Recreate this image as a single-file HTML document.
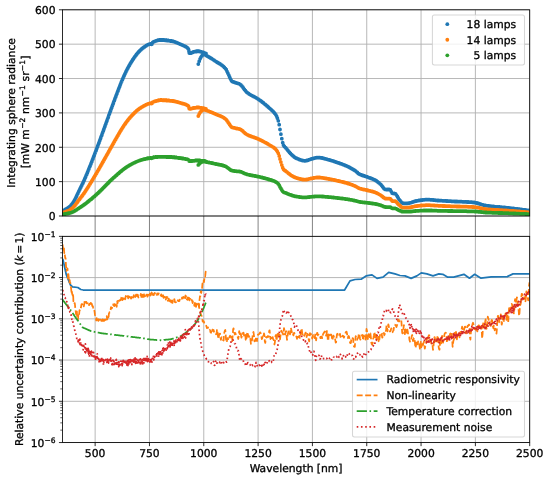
<!DOCTYPE html><html><head><meta charset="utf-8"><title>Integrating sphere radiance</title><style>html,body{margin:0;padding:0;background:#fff}svg{display:block}</style></head><body><svg width="550" height="481" viewBox="0 0 550 481" font-family="'DejaVu Sans', 'Liberation Sans', sans-serif" font-size="10.75" fill="#000" text-rendering="geometricPrecision"><style>text{stroke:#000;stroke-width:0.3px}</style><rect width="550" height="481" fill="#fff"/><defs><clipPath id="ct"><rect x="62.55" y="9.80" width="467.15" height="206.20"/></clipPath><clipPath id="cb"><rect x="62.55" y="236.35" width="467.15" height="206.20"/></clipPath></defs><path d="M95.14 9.80V216.00M149.46 9.80V216.00M203.78 9.80V216.00M258.10 9.80V216.00M312.42 9.80V216.00M366.74 9.80V216.00M421.06 9.80V216.00M475.38 9.80V216.00M529.70 9.80V216.00M62.55 216.00H529.70M62.55 181.63H529.70M62.55 147.27H529.70M62.55 112.90H529.70M62.55 78.53H529.70M62.55 44.17H529.70M62.55 9.80H529.70" stroke="#b0b0b0" stroke-width="0.90" fill="none"/><g clip-path="url(#ct)" fill="none" stroke-linecap="round" stroke-width="3.80"><path d="M62.5 211.2h0M62.9 211.0h0M63.2 210.8h0M63.5 210.6h0M63.9 210.4h0M64.2 210.2h0M64.5 210.0h0M64.8 209.8h0M65.2 209.6h0M65.5 209.4h0M65.8 209.2h0M66.1 209.0h0M66.5 208.8h0M66.8 208.6h0M67.1 208.4h0M67.4 208.2h0M67.8 208.1h0M68.1 207.9h0M68.4 207.7h0M68.7 207.4h0M69.1 207.2h0M69.4 207.0h0M69.7 206.7h0M70.0 206.4h0M70.4 206.1h0M70.7 205.8h0M71.0 205.4h0M71.3 205.0h0M71.7 204.6h0M72.0 204.2h0M72.3 203.8h0M72.7 203.3h0M73.0 202.8h0M73.3 202.3h0M73.6 201.8h0M74.0 201.3h0M74.3 200.7h0M74.6 200.1h0M74.9 199.6h0M75.3 199.0h0M75.6 198.3h0M75.9 197.7h0M76.2 197.0h0M76.6 196.3h0M76.9 195.5h0M77.2 194.8h0M77.5 194.1h0M77.9 193.4h0M78.2 192.8h0M78.5 192.1h0M78.8 191.4h0M79.2 190.7h0M79.5 190.1h0M79.8 189.4h0M80.1 188.7h0M80.5 188.0h0M80.8 187.4h0M81.1 186.7h0M81.5 186.0h0M81.8 185.4h0M82.1 184.7h0M82.4 184.0h0M82.8 183.4h0M83.1 182.7h0M83.4 182.0h0M83.7 181.3h0M84.1 180.5h0M84.4 179.8h0M84.7 179.0h0M85.0 178.3h0M85.4 177.5h0M85.7 176.8h0M86.0 176.0h0M86.3 175.2h0M86.7 174.4h0M87.0 173.6h0M87.3 172.9h0M87.6 172.1h0M88.0 171.3h0M88.3 170.5h0M88.6 169.7h0M88.9 168.9h0M89.3 168.0h0M89.6 167.2h0M89.9 166.4h0M90.3 165.6h0M90.6 164.8h0M90.9 163.9h0M91.2 163.1h0M91.6 162.3h0M91.9 161.4h0M92.2 160.6h0M92.5 159.7h0M92.9 158.9h0M93.2 158.0h0M93.5 157.2h0M93.8 156.3h0M94.2 155.5h0M94.5 154.6h0M94.8 153.8h0M95.1 152.9h0M95.5 152.1h0M95.8 151.2h0M96.1 150.4h0M96.4 149.5h0M96.8 148.6h0M97.1 147.8h0M97.4 146.9h0M97.7 146.0h0M98.1 145.2h0M98.4 144.3h0M98.7 143.4h0M99.1 142.5h0M99.4 141.6h0M99.7 140.7h0M100.0 139.8h0M100.4 138.9h0M100.7 138.0h0M101.0 137.1h0M101.3 136.3h0M101.7 135.4h0M102.0 134.5h0M102.3 133.6h0M102.6 132.7h0M103.0 131.8h0M103.3 130.9h0M103.6 130.0h0M103.9 129.1h0M104.3 128.2h0M104.6 127.3h0M104.9 126.4h0M105.2 125.5h0M105.6 124.6h0M105.9 123.7h0M106.2 122.8h0M106.5 121.9h0M106.9 121.0h0M107.2 120.1h0M107.5 119.2h0M107.9 118.3h0M108.2 117.4h0M108.5 116.4h0M108.8 115.5h0M109.2 114.6h0M109.5 113.7h0M109.8 112.8h0M110.1 111.9h0M110.5 111.0h0M110.8 110.1h0M111.1 109.2h0M111.4 108.3h0M111.8 107.5h0M112.1 106.6h0M112.4 105.7h0M112.7 104.8h0M113.1 103.9h0M113.4 103.0h0M113.7 102.1h0M114.0 101.3h0M114.4 100.4h0M114.7 99.5h0M115.0 98.6h0M115.3 97.8h0M115.7 96.9h0M116.0 96.0h0M116.3 95.2h0M116.7 94.3h0M117.0 93.5h0M117.3 92.6h0M117.6 91.7h0M118.0 90.9h0M118.3 90.0h0M118.6 89.2h0M118.9 88.3h0M119.3 87.5h0M119.6 86.7h0M119.9 85.8h0M120.2 85.0h0M120.6 84.1h0M120.9 83.3h0M121.2 82.5h0M121.5 81.7h0M121.9 80.9h0M122.2 80.2h0M122.5 79.4h0M122.8 78.6h0M123.2 77.9h0M123.5 77.1h0M123.8 76.4h0M124.1 75.7h0M124.5 75.0h0M124.8 74.3h0M125.1 73.6h0M125.5 72.9h0M125.8 72.2h0M126.1 71.5h0M126.4 70.9h0M126.8 70.2h0M127.1 69.6h0M127.4 69.0h0M127.7 68.4h0M128.1 67.7h0M128.4 67.1h0M128.7 66.6h0M129.0 66.0h0M129.4 65.4h0M129.7 64.8h0M130.0 64.3h0M130.3 63.7h0M130.7 63.2h0M131.0 62.6h0M131.3 62.1h0M131.6 61.6h0M132.0 61.1h0M132.3 60.6h0M132.6 60.1h0M132.9 59.5h0M133.3 59.1h0M133.6 58.6h0M133.9 58.1h0M134.3 57.6h0M134.6 57.2h0M134.9 56.7h0M135.2 56.3h0M135.6 55.8h0M135.9 55.4h0M136.2 54.9h0M136.5 54.5h0M136.9 54.1h0M137.2 53.7h0M137.5 53.3h0M137.8 52.9h0M138.2 52.6h0M138.5 52.2h0M138.8 51.8h0M139.1 51.5h0M139.5 51.2h0M139.8 50.8h0M140.1 50.5h0M140.4 50.2h0M140.8 49.9h0M141.1 49.6h0M141.4 49.3h0M141.7 49.0h0M142.1 48.7h0M142.4 48.5h0M142.7 48.2h0M143.1 48.0h0M143.4 47.7h0M143.7 47.5h0M144.0 47.2h0M144.4 47.0h0M144.7 46.8h0M145.0 46.5h0M145.3 46.3h0M145.7 46.1h0M146.0 45.9h0M146.3 45.6h0M146.6 45.4h0M147.0 45.2h0M147.3 45.1h0M147.6 44.9h0M147.9 44.7h0M148.3 44.6h0M148.6 44.5h0M148.9 44.4h0M149.2 44.3h0M149.6 44.2h0M149.9 44.1h0M150.2 44.0h0M150.5 44.0h0M150.9 44.0h0M151.2 44.2h0M151.5 44.3h0M151.9 44.2h0M152.2 43.5h0M152.5 42.8h0M152.8 42.4h0M153.2 42.1h0M153.5 41.9h0M153.8 41.7h0M154.1 41.6h0M154.5 41.5h0M154.8 41.4h0M155.1 41.2h0M155.4 41.1h0M155.8 41.0h0M156.1 40.9h0M156.4 40.8h0M156.7 40.7h0M157.1 40.6h0M157.4 40.5h0M157.7 40.4h0M158.0 40.3h0M158.4 40.3h0M158.7 40.2h0M159.0 40.1h0M159.3 40.1h0M159.7 40.1h0M160.0 40.0h0M160.3 40.0h0M160.7 40.0h0M161.0 40.0h0M161.3 40.1h0M161.6 40.1h0M162.0 40.1h0M162.3 40.1h0M162.6 40.1h0M162.9 40.1h0M163.3 40.1h0M163.6 40.2h0M163.9 40.2h0M164.2 40.2h0M164.6 40.2h0M164.9 40.3h0M165.2 40.3h0M165.5 40.3h0M165.9 40.4h0M166.2 40.4h0M166.5 40.4h0M166.8 40.5h0M167.2 40.5h0M167.5 40.6h0M167.8 40.6h0M168.1 40.6h0M168.5 40.7h0M168.8 40.7h0M169.1 40.8h0M169.5 40.8h0M169.8 40.9h0M170.1 40.9h0M170.4 41.0h0M170.8 41.0h0M171.1 41.1h0M171.4 41.1h0M171.7 41.2h0M172.1 41.2h0M172.4 41.3h0M172.7 41.4h0M173.0 41.4h0M173.4 41.5h0M173.7 41.6h0M174.0 41.7h0M174.3 41.8h0M174.7 41.9h0M175.0 42.0h0M175.3 42.1h0M175.6 42.3h0M176.0 42.4h0M176.3 42.5h0M176.6 42.6h0M176.9 42.7h0M177.3 42.9h0M177.6 43.0h0M177.9 43.1h0M178.3 43.3h0M178.6 43.4h0M178.9 43.6h0M179.2 43.7h0M179.6 43.8h0M179.9 44.0h0M180.2 44.1h0M180.5 44.3h0M180.9 44.4h0M181.2 44.6h0M181.5 44.7h0M181.8 44.9h0M182.2 45.0h0M182.5 45.1h0M182.8 45.3h0M183.1 45.4h0M183.5 45.6h0M183.8 45.7h0M184.1 45.8h0M184.4 46.0h0M184.8 46.1h0M185.1 46.3h0M185.4 46.5h0M185.7 46.7h0M186.1 46.9h0M186.4 47.1h0M186.7 47.3h0M187.1 47.6h0M187.4 47.8h0M187.7 48.2h0M188.0 48.6h0M188.4 49.2h0M188.7 50.0h0M189.0 51.6h0M189.3 53.0h0M189.7 53.1h0M190.0 53.1h0M190.3 53.1h0M190.6 53.1h0M191.0 53.1h0M191.3 53.0h0M191.6 52.8h0M191.9 52.7h0M192.3 52.5h0M192.6 52.3h0M192.9 52.1h0M193.2 52.0h0M193.6 52.0h0M193.9 51.9h0M194.2 51.8h0M194.5 51.8h0M194.9 51.7h0M195.2 51.7h0M195.5 51.6h0M195.9 51.6h0M196.2 51.5h0M196.5 51.5h0M196.8 51.5h0M197.2 51.4h0M197.5 51.4h0M197.8 51.4h0M198.1 51.4h0M198.5 51.4h0M198.8 51.4h0M199.1 51.4h0M199.4 51.5h0M199.8 51.6h0M200.1 51.7h0M200.4 51.7h0M200.7 51.8h0M201.1 51.9h0M201.4 52.0h0M201.7 52.1h0M202.0 52.2h0M202.4 52.3h0M202.7 52.4h0M203.0 52.4h0M203.3 52.5h0M203.7 52.6h0M204.0 52.7h0M204.3 52.8h0M204.7 53.0h0M205.0 53.1h0M205.3 53.2h0M205.6 53.3h0M206.0 53.4h0M198.3 64.1h0M199.2 61.2h0M200.1 58.8h0M201.0 57.1h0M201.8 55.9h0M202.7 55.0h0M203.6 54.6h0M204.4 54.5h0M205.3 54.8h0M206.2 55.4h0M207.0 55.9h0M207.9 56.4h0M208.8 56.9h0M209.6 57.4h0M210.5 58.0h0M211.4 58.5h0M212.3 59.1h0M213.1 59.6h0M214.0 60.2h0M214.9 60.8h0M215.7 61.3h0M216.6 61.9h0M217.5 62.5h0M218.3 63.0h0M219.2 63.5h0M220.1 64.0h0M220.9 64.6h0M221.8 65.2h0M222.7 65.8h0M223.6 66.6h0M224.4 67.4h0M225.3 68.3h0M226.2 69.5h0M227.0 71.3h0M227.9 73.2h0M228.8 75.1h0M229.6 77.0h0M230.5 78.9h0M231.4 80.6h0M232.2 81.4h0M233.1 81.9h0M234.0 82.2h0M234.9 82.5h0M235.7 82.8h0M236.6 83.1h0M237.5 83.3h0M238.3 83.6h0M239.2 83.8h0M240.1 84.3h0M240.9 85.0h0M241.8 85.9h0M242.7 87.0h0M243.5 88.2h0M244.4 89.4h0M245.3 90.5h0M246.2 91.6h0M247.0 92.4h0M247.9 93.1h0M248.8 93.7h0M249.6 94.3h0M250.5 94.8h0M251.4 95.3h0M252.2 95.8h0M253.1 96.2h0M254.0 96.7h0M254.8 97.1h0M255.7 97.6h0M256.6 98.1h0M257.4 98.6h0M258.3 99.2h0M259.2 99.8h0M260.1 100.4h0M260.9 101.0h0M261.8 101.7h0M262.7 102.4h0M263.5 103.0h0M264.4 103.8h0M265.3 104.5h0M266.1 105.2h0M267.0 106.0h0M267.9 106.7h0M268.7 107.5h0M269.6 108.3h0M270.5 109.1h0M271.4 109.8h0M272.2 110.6h0M273.1 111.4h0M274.0 112.4h0M274.8 113.4h0M275.7 114.6h0M276.6 116.2h0M277.4 118.2h0M278.3 120.8h0M279.2 124.7h0M280.0 129.5h0M280.9 134.2h0M281.8 138.7h0M282.7 142.7h0M283.5 145.2h0M284.4 146.5h0M285.3 147.3h0M286.1 148.2h0M287.0 149.3h0M287.9 150.5h0M288.7 151.6h0M289.6 152.5h0M290.5 153.4h0M291.3 154.3h0M292.2 155.2h0M293.1 156.0h0M294.0 156.7h0M294.8 157.4h0M295.7 157.9h0M296.6 158.4h0M297.4 158.7h0M298.3 159.1h0M299.2 159.5h0M300.0 159.8h0M300.9 160.1h0M301.8 160.4h0M302.6 160.6h0M303.5 160.7h0M304.4 160.8h0M305.3 160.8h0M306.1 160.7h0M307.0 160.5h0M307.9 160.3h0M308.7 159.9h0M309.6 159.6h0M310.5 159.3h0M311.3 159.0h0M312.2 158.8h0M313.1 158.5h0M313.9 158.3h0M314.8 158.1h0M315.7 157.9h0M316.5 157.7h0M317.4 157.6h0M318.3 157.6h0M319.2 157.6h0M320.0 157.7h0M320.9 157.9h0M321.8 158.0h0M322.6 158.2h0M323.5 158.4h0M324.4 158.7h0M325.2 158.9h0M326.1 159.1h0M327.0 159.3h0M327.8 159.6h0M328.7 159.8h0M329.6 160.0h0M330.5 160.3h0M331.3 160.6h0M332.2 160.8h0M333.1 161.1h0M333.9 161.4h0M334.8 161.7h0M335.7 162.0h0M336.5 162.3h0M337.4 162.6h0M338.3 162.9h0M339.1 163.2h0M340.0 163.5h0M340.9 163.8h0M341.8 164.1h0M342.6 164.4h0M343.5 164.8h0M344.4 165.1h0M345.2 165.5h0M346.1 165.8h0M347.0 166.2h0M347.8 166.6h0M348.7 167.0h0M349.6 167.5h0M350.4 167.9h0M351.3 168.4h0M352.2 168.9h0M353.1 169.4h0M353.9 169.9h0M354.8 170.5h0M355.7 171.1h0M356.5 171.8h0M357.4 172.5h0M358.3 173.4h0M359.1 174.0h0M360.0 174.4h0M360.9 174.8h0M361.7 175.2h0M362.6 175.5h0M363.5 175.7h0M364.4 176.0h0M365.2 176.3h0M366.1 176.6h0M367.0 176.9h0M367.8 177.2h0M368.7 177.6h0M369.6 177.9h0M370.4 178.2h0M371.3 178.5h0M372.2 178.8h0M373.0 179.2h0M373.9 179.6h0M374.8 180.0h0M375.6 180.5h0M376.5 181.0h0M377.4 181.7h0M378.3 182.3h0M379.1 183.0h0M380.0 183.8h0M380.9 184.6h0M381.7 185.6h0M382.6 186.7h0M383.5 187.9h0M384.3 188.8h0M385.2 189.4h0M386.1 189.6h0M386.9 189.6h0M387.8 189.5h0M388.7 189.5h0M389.6 189.7h0M390.4 190.0h0M391.3 191.6h0M392.2 193.2h0M393.0 193.4h0M393.9 193.5h0M394.8 193.6h0M395.6 194.0h0M396.5 195.1h0M397.4 196.5h0M398.2 198.0h0M399.1 199.4h0M400.0 200.4h0M400.9 201.6h0M401.7 202.6h0M402.6 203.2h0M403.5 203.3h0M404.3 203.3h0M405.2 203.3h0M406.1 203.3h0M406.9 203.3h0M407.8 203.3h0M408.7 203.2h0M409.5 203.1h0M410.4 202.8h0M411.3 202.6h0M412.2 202.3h0M413.0 202.0h0M413.9 201.7h0M414.8 201.4h0M415.6 201.1h0M416.5 201.0h0M417.4 200.8h0M418.2 200.7h0M419.1 200.5h0M420.0 200.4h0M420.8 200.2h0M421.7 200.1h0M422.6 200.0h0M423.5 199.9h0M424.3 199.8h0M425.2 199.7h0M426.1 199.7h0M426.9 199.6h0M427.8 199.6h0M428.7 199.7h0M429.5 199.7h0M430.4 199.8h0M431.3 199.8h0M432.1 199.9h0M433.0 200.0h0M433.9 200.1h0M434.7 200.2h0M435.6 200.3h0M436.5 200.4h0M437.4 200.5h0M438.2 200.5h0M439.1 200.6h0M440.0 200.6h0M440.8 200.7h0M441.7 200.7h0M442.6 200.8h0M443.4 200.8h0M444.3 200.9h0M445.2 200.9h0M446.0 201.0h0M446.9 201.0h0M447.8 201.1h0M448.7 201.1h0M449.5 201.2h0M450.4 201.2h0M451.3 201.3h0M452.1 201.3h0M453.0 201.4h0M453.9 201.4h0M454.7 201.5h0M455.6 201.5h0M456.5 201.5h0M457.3 201.6h0M458.2 201.6h0M459.1 201.6h0M460.0 201.7h0M460.8 201.7h0M461.7 201.7h0M462.6 201.8h0M463.4 201.8h0M464.3 201.8h0M465.2 201.9h0M466.0 201.9h0M466.9 202.0h0M467.8 202.0h0M468.6 202.1h0M469.5 202.1h0M470.4 202.2h0M471.3 202.2h0M472.1 202.3h0M473.0 202.4h0M473.9 202.5h0M474.7 202.6h0M475.6 202.8h0M476.5 203.0h0M477.3 203.2h0M478.2 203.5h0M479.1 203.7h0M479.9 204.0h0M480.8 204.3h0M481.7 204.6h0M482.6 204.9h0M483.4 205.1h0M484.3 205.4h0M485.2 205.5h0M486.0 205.7h0M486.9 205.8h0M487.8 205.9h0M488.6 206.0h0M489.5 206.1h0M490.4 206.2h0M491.2 206.3h0M492.1 206.4h0M493.0 206.5h0M493.8 206.6h0M494.7 206.7h0M495.6 206.8h0M496.5 206.8h0M497.3 206.9h0M498.2 207.0h0M499.1 207.0h0M499.9 207.1h0M500.8 207.2h0M501.7 207.3h0M502.5 207.3h0M503.4 207.4h0M504.3 207.5h0M505.1 207.6h0M506.0 207.7h0M506.9 207.8h0M507.8 207.9h0M508.6 208.0h0M509.5 208.1h0M510.4 208.2h0M511.2 208.3h0M512.1 208.4h0M513.0 208.5h0M513.8 208.6h0M514.7 208.7h0M515.6 208.8h0M516.4 208.9h0M517.3 209.0h0M518.2 209.1h0M519.1 209.2h0M519.9 209.3h0M520.8 209.5h0M521.7 209.6h0M522.5 209.7h0M523.4 209.8h0M524.3 209.9h0M525.1 210.0h0M526.0 210.2h0M526.9 210.3h0M527.7 210.4h0M528.6 210.5h0M529.5 210.6h0" stroke="#1f77b4"/><path d="M62.5 212.9h0M62.9 212.8h0M63.2 212.7h0M63.5 212.6h0M63.9 212.4h0M64.2 212.3h0M64.5 212.2h0M64.8 212.0h0M65.2 211.9h0M65.5 211.8h0M65.8 211.7h0M66.1 211.5h0M66.5 211.4h0M66.8 211.3h0M67.1 211.2h0M67.4 211.0h0M67.8 210.9h0M68.1 210.8h0M68.4 210.7h0M68.7 210.5h0M69.1 210.4h0M69.4 210.2h0M69.7 210.1h0M70.0 209.9h0M70.4 209.7h0M70.7 209.4h0M71.0 209.2h0M71.3 209.0h0M71.7 208.7h0M72.0 208.4h0M72.3 208.2h0M72.7 207.9h0M73.0 207.6h0M73.3 207.3h0M73.6 206.9h0M74.0 206.6h0M74.3 206.2h0M74.6 205.8h0M74.9 205.5h0M75.3 205.1h0M75.6 204.7h0M75.9 204.2h0M76.2 203.8h0M76.6 203.3h0M76.9 202.9h0M77.2 202.4h0M77.5 202.0h0M77.9 201.5h0M78.2 201.1h0M78.5 200.7h0M78.8 200.2h0M79.2 199.8h0M79.5 199.4h0M79.8 199.0h0M80.1 198.5h0M80.5 198.1h0M80.8 197.7h0M81.1 197.2h0M81.5 196.8h0M81.8 196.4h0M82.1 195.9h0M82.4 195.5h0M82.8 195.1h0M83.1 194.6h0M83.4 194.2h0M83.7 193.7h0M84.1 193.3h0M84.4 192.8h0M84.7 192.3h0M85.0 191.8h0M85.4 191.3h0M85.7 190.8h0M86.0 190.3h0M86.3 189.8h0M86.7 189.3h0M87.0 188.8h0M87.3 188.3h0M87.6 187.8h0M88.0 187.3h0M88.3 186.8h0M88.6 186.3h0M88.9 185.8h0M89.3 185.3h0M89.6 184.7h0M89.9 184.2h0M90.3 183.7h0M90.6 183.1h0M90.9 182.6h0M91.2 182.1h0M91.6 181.5h0M91.9 181.0h0M92.2 180.5h0M92.5 179.9h0M92.9 179.4h0M93.2 178.8h0M93.5 178.3h0M93.8 177.7h0M94.2 177.2h0M94.5 176.6h0M94.8 176.1h0M95.1 175.6h0M95.5 175.0h0M95.8 174.5h0M96.1 173.9h0M96.4 173.4h0M96.8 172.8h0M97.1 172.2h0M97.4 171.7h0M97.7 171.1h0M98.1 170.6h0M98.4 170.0h0M98.7 169.4h0M99.1 168.8h0M99.4 168.3h0M99.7 167.7h0M100.0 167.1h0M100.4 166.6h0M100.7 166.0h0M101.0 165.4h0M101.3 164.8h0M101.7 164.3h0M102.0 163.7h0M102.3 163.1h0M102.6 162.5h0M103.0 162.0h0M103.3 161.4h0M103.6 160.8h0M103.9 160.2h0M104.3 159.7h0M104.6 159.1h0M104.9 158.5h0M105.2 157.9h0M105.6 157.3h0M105.9 156.8h0M106.2 156.2h0M106.5 155.6h0M106.9 155.0h0M107.2 154.4h0M107.5 153.9h0M107.9 153.3h0M108.2 152.7h0M108.5 152.1h0M108.8 151.5h0M109.2 150.9h0M109.5 150.3h0M109.8 149.7h0M110.1 149.2h0M110.5 148.6h0M110.8 148.0h0M111.1 147.4h0M111.4 146.9h0M111.8 146.3h0M112.1 145.7h0M112.4 145.1h0M112.7 144.6h0M113.1 144.0h0M113.4 143.4h0M113.7 142.8h0M114.0 142.2h0M114.4 141.7h0M114.7 141.1h0M115.0 140.5h0M115.3 139.9h0M115.7 139.4h0M116.0 138.8h0M116.3 138.2h0M116.7 137.7h0M117.0 137.1h0M117.3 136.5h0M117.6 136.0h0M118.0 135.4h0M118.3 134.9h0M118.6 134.3h0M118.9 133.7h0M119.3 133.2h0M119.6 132.6h0M119.9 132.1h0M120.2 131.5h0M120.6 131.0h0M120.9 130.4h0M121.2 129.9h0M121.5 129.3h0M121.9 128.8h0M122.2 128.3h0M122.5 127.8h0M122.8 127.3h0M123.2 126.8h0M123.5 126.3h0M123.8 125.8h0M124.1 125.3h0M124.5 124.9h0M124.8 124.4h0M125.1 123.9h0M125.5 123.5h0M125.8 123.0h0M126.1 122.6h0M126.4 122.1h0M126.8 121.7h0M127.1 121.3h0M127.4 120.8h0M127.7 120.4h0M128.1 120.0h0M128.4 119.6h0M128.7 119.2h0M129.0 118.8h0M129.4 118.4h0M129.7 118.0h0M130.0 117.7h0M130.3 117.3h0M130.7 116.9h0M131.0 116.6h0M131.3 116.2h0M131.6 115.8h0M132.0 115.5h0M132.3 115.1h0M132.6 114.8h0M132.9 114.5h0M133.3 114.1h0M133.6 113.8h0M133.9 113.5h0M134.3 113.1h0M134.6 112.8h0M134.9 112.5h0M135.2 112.2h0M135.6 111.9h0M135.9 111.6h0M136.2 111.3h0M136.5 111.0h0M136.9 110.7h0M137.2 110.4h0M137.5 110.2h0M137.8 109.9h0M138.2 109.6h0M138.5 109.4h0M138.8 109.1h0M139.1 108.9h0M139.5 108.7h0M139.8 108.4h0M140.1 108.2h0M140.4 108.0h0M140.8 107.8h0M141.1 107.6h0M141.4 107.3h0M141.7 107.1h0M142.1 106.9h0M142.4 106.8h0M142.7 106.6h0M143.1 106.4h0M143.4 106.2h0M143.7 106.0h0M144.0 105.8h0M144.4 105.7h0M144.7 105.5h0M145.0 105.3h0M145.3 105.2h0M145.7 105.0h0M146.0 104.9h0M146.3 104.7h0M146.6 104.5h0M147.0 104.4h0M147.3 104.2h0M147.6 104.1h0M147.9 104.0h0M148.3 103.9h0M148.6 103.8h0M148.9 103.7h0M149.2 103.6h0M149.6 103.5h0M149.9 103.5h0M150.2 103.4h0M150.5 103.4h0M150.9 103.4h0M151.2 103.4h0M151.5 103.5h0M151.9 103.4h0M152.2 103.0h0M152.5 102.5h0M152.8 102.2h0M153.2 102.0h0M153.5 101.8h0M153.8 101.7h0M154.1 101.6h0M154.5 101.5h0M154.8 101.4h0M155.1 101.3h0M155.4 101.2h0M155.8 101.1h0M156.1 101.0h0M156.4 101.0h0M156.7 100.9h0M157.1 100.8h0M157.4 100.7h0M157.7 100.6h0M158.0 100.6h0M158.4 100.5h0M158.7 100.4h0M159.0 100.4h0M159.3 100.3h0M159.7 100.3h0M160.0 100.2h0M160.3 100.2h0M160.7 100.2h0M161.0 100.2h0M161.3 100.2h0M161.6 100.2h0M162.0 100.2h0M162.3 100.2h0M162.6 100.3h0M162.9 100.3h0M163.3 100.3h0M163.6 100.3h0M163.9 100.3h0M164.2 100.3h0M164.6 100.3h0M164.9 100.4h0M165.2 100.4h0M165.5 100.4h0M165.9 100.4h0M166.2 100.5h0M166.5 100.5h0M166.8 100.5h0M167.2 100.5h0M167.5 100.6h0M167.8 100.6h0M168.1 100.6h0M168.5 100.6h0M168.8 100.7h0M169.1 100.7h0M169.5 100.7h0M169.8 100.8h0M170.1 100.8h0M170.4 100.8h0M170.8 100.8h0M171.1 100.9h0M171.4 100.9h0M171.7 100.9h0M172.1 101.0h0M172.4 101.0h0M172.7 101.1h0M173.0 101.1h0M173.4 101.2h0M173.7 101.2h0M174.0 101.3h0M174.3 101.4h0M174.7 101.4h0M175.0 101.5h0M175.3 101.6h0M175.6 101.7h0M176.0 101.7h0M176.3 101.8h0M176.6 101.9h0M176.9 102.0h0M177.3 102.1h0M177.6 102.2h0M177.9 102.2h0M178.3 102.3h0M178.6 102.4h0M178.9 102.5h0M179.2 102.6h0M179.6 102.7h0M179.9 102.8h0M180.2 102.9h0M180.5 103.0h0M180.9 103.1h0M181.2 103.2h0M181.5 103.3h0M181.8 103.4h0M182.2 103.5h0M182.5 103.6h0M182.8 103.6h0M183.1 103.7h0M183.5 103.8h0M183.8 103.9h0M184.1 104.0h0M184.4 104.1h0M184.8 104.2h0M185.1 104.3h0M185.4 104.4h0M185.7 104.5h0M186.1 104.7h0M186.4 104.8h0M186.7 105.0h0M187.1 105.1h0M187.4 105.3h0M187.7 105.5h0M188.0 105.8h0M188.4 106.2h0M188.7 106.7h0M189.0 107.8h0M189.3 108.7h0M189.7 108.8h0M190.0 108.8h0M190.3 108.8h0M190.6 108.8h0M191.0 108.8h0M191.3 108.7h0M191.6 108.6h0M191.9 108.5h0M192.3 108.4h0M192.6 108.2h0M192.9 108.1h0M193.2 108.1h0M193.6 108.0h0M193.9 108.0h0M194.2 108.0h0M194.5 107.9h0M194.9 107.9h0M195.2 107.8h0M195.5 107.8h0M195.9 107.8h0M196.2 107.7h0M196.5 107.7h0M196.8 107.7h0M197.2 107.7h0M197.5 107.7h0M197.8 107.7h0M198.1 107.6h0M198.5 107.6h0M198.8 107.7h0M199.1 107.7h0M199.4 107.7h0M199.8 107.8h0M200.1 107.8h0M200.4 107.9h0M200.7 107.9h0M201.1 108.0h0M201.4 108.1h0M201.7 108.1h0M202.0 108.2h0M202.4 108.2h0M202.7 108.3h0M203.0 108.3h0M203.3 108.4h0M203.7 108.5h0M204.0 108.5h0M204.3 108.6h0M204.7 108.7h0M205.0 108.7h0M205.3 108.8h0M205.6 108.9h0M206.0 109.0h0M198.3 116.0h0M199.2 114.1h0M200.1 112.5h0M201.0 111.4h0M201.8 110.6h0M202.7 110.0h0M203.6 109.8h0M204.4 109.7h0M205.3 109.9h0M206.2 110.3h0M207.0 110.6h0M207.9 110.9h0M208.8 111.3h0M209.6 111.6h0M210.5 112.0h0M211.4 112.3h0M212.3 112.7h0M213.1 113.1h0M214.0 113.4h0M214.9 113.8h0M215.7 114.2h0M216.6 114.6h0M217.5 114.9h0M218.3 115.3h0M219.2 115.6h0M220.1 115.9h0M220.9 116.3h0M221.8 116.7h0M222.7 117.1h0M223.6 117.6h0M224.4 118.2h0M225.3 118.8h0M226.2 119.6h0M227.0 120.7h0M227.9 122.0h0M228.8 123.2h0M229.6 124.5h0M230.5 125.8h0M231.4 126.8h0M232.2 127.4h0M233.1 127.7h0M234.0 127.9h0M234.9 128.1h0M235.7 128.3h0M236.6 128.5h0M237.5 128.6h0M238.3 128.8h0M239.2 129.0h0M240.1 129.3h0M240.9 129.7h0M241.8 130.3h0M242.7 131.0h0M243.5 131.8h0M244.4 132.6h0M245.3 133.4h0M246.2 134.1h0M247.0 134.6h0M247.9 135.1h0M248.8 135.5h0M249.6 135.9h0M250.5 136.2h0M251.4 136.5h0M252.2 136.8h0M253.1 137.1h0M254.0 137.4h0M254.8 137.7h0M255.7 138.0h0M256.6 138.3h0M257.4 138.7h0M258.3 139.1h0M259.2 139.4h0M260.1 139.9h0M260.9 140.3h0M261.8 140.7h0M262.7 141.2h0M263.5 141.6h0M264.4 142.1h0M265.3 142.6h0M266.1 143.0h0M267.0 143.5h0M267.9 144.0h0M268.7 144.6h0M269.6 145.1h0M270.5 145.6h0M271.4 146.1h0M272.2 146.6h0M273.1 147.1h0M274.0 147.7h0M274.8 148.4h0M275.7 149.2h0M276.6 150.3h0M277.4 151.6h0M278.3 153.3h0M279.2 155.9h0M280.0 159.1h0M280.9 162.1h0M281.8 165.1h0M282.7 167.7h0M283.5 169.3h0M284.4 170.2h0M285.3 170.7h0M286.1 171.4h0M287.0 172.1h0M287.9 172.8h0M288.7 173.5h0M289.6 174.2h0M290.5 174.8h0M291.3 175.4h0M292.2 175.9h0M293.1 176.5h0M294.0 176.9h0M294.8 177.4h0M295.7 177.7h0M296.6 178.0h0M297.4 178.3h0M298.3 178.5h0M299.2 178.8h0M300.0 179.0h0M300.9 179.2h0M301.8 179.4h0M302.6 179.5h0M303.5 179.6h0M304.4 179.6h0M305.3 179.7h0M306.1 179.6h0M307.0 179.5h0M307.9 179.3h0M308.7 179.1h0M309.6 178.8h0M310.5 178.6h0M311.3 178.5h0M312.2 178.3h0M313.1 178.1h0M313.9 178.0h0M314.8 177.8h0M315.7 177.7h0M316.5 177.6h0M317.4 177.5h0M318.3 177.5h0M319.2 177.5h0M320.0 177.6h0M320.9 177.7h0M321.8 177.8h0M322.6 177.9h0M323.5 178.1h0M324.4 178.2h0M325.2 178.4h0M326.1 178.5h0M327.0 178.7h0M327.8 178.8h0M328.7 179.0h0M329.6 179.1h0M330.5 179.3h0M331.3 179.5h0M332.2 179.6h0M333.1 179.8h0M333.9 180.0h0M334.8 180.2h0M335.7 180.4h0M336.5 180.6h0M337.4 180.8h0M338.3 181.0h0M339.1 181.2h0M340.0 181.4h0M340.9 181.6h0M341.8 181.8h0M342.6 182.0h0M343.5 182.2h0M344.4 182.5h0M345.2 182.7h0M346.1 182.9h0M347.0 183.2h0M347.8 183.5h0M348.7 183.7h0M349.6 184.0h0M350.4 184.3h0M351.3 184.6h0M352.2 184.9h0M353.1 185.3h0M353.9 185.6h0M354.8 186.0h0M355.7 186.4h0M356.5 186.8h0M357.4 187.3h0M358.3 187.9h0M359.1 188.3h0M360.0 188.6h0M360.9 188.9h0M361.7 189.1h0M362.6 189.3h0M363.5 189.5h0M364.4 189.6h0M365.2 189.8h0M366.1 190.0h0M367.0 190.2h0M367.8 190.5h0M368.7 190.7h0M369.6 190.9h0M370.4 191.1h0M371.3 191.3h0M372.2 191.5h0M373.0 191.7h0M373.9 192.0h0M374.8 192.3h0M375.6 192.6h0M376.5 193.0h0M377.4 193.4h0M378.3 193.8h0M379.1 194.3h0M380.0 194.8h0M380.9 195.3h0M381.7 195.9h0M382.6 196.7h0M383.5 197.5h0M384.3 198.1h0M385.2 198.5h0M386.1 198.6h0M386.9 198.6h0M387.8 198.6h0M388.7 198.6h0M389.6 198.7h0M390.4 198.8h0M391.3 199.9h0M392.2 201.0h0M393.0 201.1h0M393.9 201.2h0M394.8 201.2h0M395.6 201.5h0M396.5 202.2h0M397.4 203.2h0M398.2 204.2h0M399.1 205.0h0M400.0 205.7h0M400.9 206.5h0M401.7 207.2h0M402.6 207.6h0M403.5 207.6h0M404.3 207.6h0M405.2 207.6h0M406.1 207.6h0M406.9 207.6h0M407.8 207.6h0M408.7 207.6h0M409.5 207.5h0M410.4 207.3h0M411.3 207.2h0M412.2 207.0h0M413.0 206.8h0M413.9 206.6h0M414.8 206.4h0M415.6 206.2h0M416.5 206.1h0M417.4 206.0h0M418.2 205.9h0M419.1 205.8h0M420.0 205.7h0M420.8 205.6h0M421.7 205.5h0M422.6 205.4h0M423.5 205.4h0M424.3 205.3h0M425.2 205.3h0M426.1 205.2h0M426.9 205.2h0M427.8 205.2h0M428.7 205.2h0M429.5 205.2h0M430.4 205.3h0M431.3 205.3h0M432.1 205.4h0M433.0 205.4h0M433.9 205.5h0M434.7 205.6h0M435.6 205.6h0M436.5 205.7h0M437.4 205.7h0M438.2 205.8h0M439.1 205.8h0M440.0 205.9h0M440.8 205.9h0M441.7 205.9h0M442.6 206.0h0M443.4 206.0h0M444.3 206.0h0M445.2 206.1h0M446.0 206.1h0M446.9 206.1h0M447.8 206.2h0M448.7 206.2h0M449.5 206.2h0M450.4 206.3h0M451.3 206.3h0M452.1 206.3h0M453.0 206.3h0M453.9 206.4h0M454.7 206.4h0M455.6 206.4h0M456.5 206.5h0M457.3 206.5h0M458.2 206.5h0M459.1 206.5h0M460.0 206.6h0M460.8 206.6h0M461.7 206.6h0M462.6 206.6h0M463.4 206.6h0M464.3 206.7h0M465.2 206.7h0M466.0 206.7h0M466.9 206.7h0M467.8 206.8h0M468.6 206.8h0M469.5 206.8h0M470.4 206.9h0M471.3 206.9h0M472.1 207.0h0M473.0 207.0h0M473.9 207.1h0M474.7 207.2h0M475.6 207.3h0M476.5 207.4h0M477.3 207.6h0M478.2 207.7h0M479.1 207.9h0M479.9 208.1h0M480.8 208.3h0M481.7 208.5h0M482.6 208.7h0M483.4 208.8h0M484.3 209.0h0M485.2 209.1h0M486.0 209.2h0M486.9 209.3h0M487.8 209.3h0M488.6 209.4h0M489.5 209.5h0M490.4 209.6h0M491.2 209.6h0M492.1 209.7h0M493.0 209.7h0M493.8 209.8h0M494.7 209.8h0M495.6 209.9h0M496.5 209.9h0M497.3 210.0h0M498.2 210.0h0M499.1 210.1h0M499.9 210.1h0M500.8 210.2h0M501.7 210.2h0M502.5 210.3h0M503.4 210.3h0M504.3 210.4h0M505.1 210.4h0M506.0 210.5h0M506.9 210.6h0M507.8 210.6h0M508.6 210.7h0M509.5 210.8h0M510.4 210.8h0M511.2 210.9h0M512.1 211.0h0M513.0 211.0h0M513.8 211.1h0M514.7 211.2h0M515.6 211.2h0M516.4 211.3h0M517.3 211.4h0M518.2 211.5h0M519.1 211.5h0M519.9 211.6h0M520.8 211.7h0M521.7 211.8h0M522.5 211.8h0M523.4 211.9h0M524.3 212.0h0M525.1 212.1h0M526.0 212.1h0M526.9 212.2h0M527.7 212.3h0M528.6 212.4h0M529.5 212.5h0" stroke="#ff7f0e"/><path d="M62.5 214.5h0M62.9 214.4h0M63.2 214.4h0M63.5 214.3h0M63.9 214.3h0M64.2 214.2h0M64.5 214.1h0M64.8 214.1h0M65.2 214.0h0M65.5 214.0h0M65.8 213.9h0M66.1 213.8h0M66.5 213.8h0M66.8 213.7h0M67.1 213.6h0M67.4 213.6h0M67.8 213.5h0M68.1 213.5h0M68.4 213.4h0M68.7 213.3h0M69.1 213.3h0M69.4 213.2h0M69.7 213.1h0M70.0 213.0h0M70.4 212.9h0M70.7 212.8h0M71.0 212.7h0M71.3 212.6h0M71.7 212.4h0M72.0 212.3h0M72.3 212.2h0M72.7 212.0h0M73.0 211.9h0M73.3 211.7h0M73.6 211.6h0M74.0 211.4h0M74.3 211.2h0M74.6 211.0h0M74.9 210.8h0M75.3 210.7h0M75.6 210.4h0M75.9 210.2h0M76.2 210.0h0M76.6 209.8h0M76.9 209.6h0M77.2 209.3h0M77.5 209.1h0M77.9 208.9h0M78.2 208.7h0M78.5 208.5h0M78.8 208.3h0M79.2 208.0h0M79.5 207.8h0M79.8 207.6h0M80.1 207.4h0M80.5 207.2h0M80.8 207.0h0M81.1 206.8h0M81.5 206.5h0M81.8 206.3h0M82.1 206.1h0M82.4 205.9h0M82.8 205.7h0M83.1 205.5h0M83.4 205.2h0M83.7 205.0h0M84.1 204.8h0M84.4 204.5h0M84.7 204.3h0M85.0 204.0h0M85.4 203.8h0M85.7 203.6h0M86.0 203.3h0M86.3 203.1h0M86.7 202.8h0M87.0 202.6h0M87.3 202.3h0M87.6 202.0h0M88.0 201.8h0M88.3 201.5h0M88.6 201.3h0M88.9 201.0h0M89.3 200.7h0M89.6 200.5h0M89.9 200.2h0M90.3 199.9h0M90.6 199.7h0M90.9 199.4h0M91.2 199.1h0M91.6 198.9h0M91.9 198.6h0M92.2 198.3h0M92.5 198.0h0M92.9 197.8h0M93.2 197.5h0M93.5 197.2h0M93.8 196.9h0M94.2 196.7h0M94.5 196.4h0M94.8 196.1h0M95.1 195.8h0M95.5 195.5h0M95.8 195.2h0M96.1 194.9h0M96.4 194.6h0M96.8 194.3h0M97.1 194.0h0M97.4 193.7h0M97.7 193.4h0M98.1 193.1h0M98.4 192.8h0M98.7 192.5h0M99.1 192.2h0M99.4 191.8h0M99.7 191.5h0M100.0 191.2h0M100.4 190.9h0M100.7 190.6h0M101.0 190.3h0M101.3 189.9h0M101.7 189.6h0M102.0 189.3h0M102.3 189.0h0M102.6 188.7h0M103.0 188.3h0M103.3 188.0h0M103.6 187.7h0M103.9 187.4h0M104.3 187.0h0M104.6 186.7h0M104.9 186.4h0M105.2 186.0h0M105.6 185.7h0M105.9 185.4h0M106.2 185.0h0M106.5 184.7h0M106.9 184.4h0M107.2 184.0h0M107.5 183.7h0M107.9 183.4h0M108.2 183.0h0M108.5 182.7h0M108.8 182.3h0M109.2 182.0h0M109.5 181.6h0M109.8 181.3h0M110.1 181.0h0M110.5 180.7h0M110.8 180.4h0M111.1 180.1h0M111.4 179.8h0M111.8 179.5h0M112.1 179.2h0M112.4 178.9h0M112.7 178.6h0M113.1 178.3h0M113.4 178.0h0M113.7 177.7h0M114.0 177.4h0M114.4 177.2h0M114.7 176.9h0M115.0 176.6h0M115.3 176.3h0M115.7 176.0h0M116.0 175.7h0M116.3 175.4h0M116.7 175.1h0M117.0 174.8h0M117.3 174.5h0M117.6 174.2h0M118.0 174.0h0M118.3 173.7h0M118.6 173.4h0M118.9 173.1h0M119.3 172.8h0M119.6 172.5h0M119.9 172.3h0M120.2 172.0h0M120.6 171.7h0M120.9 171.4h0M121.2 171.1h0M121.5 170.9h0M121.9 170.6h0M122.2 170.3h0M122.5 170.1h0M122.8 169.8h0M123.2 169.6h0M123.5 169.3h0M123.8 169.1h0M124.1 168.8h0M124.5 168.6h0M124.8 168.4h0M125.1 168.1h0M125.5 167.9h0M125.8 167.7h0M126.1 167.5h0M126.4 167.2h0M126.8 167.0h0M127.1 166.8h0M127.4 166.6h0M127.7 166.4h0M128.1 166.2h0M128.4 166.0h0M128.7 165.8h0M129.0 165.6h0M129.4 165.4h0M129.7 165.2h0M130.0 165.0h0M130.3 164.8h0M130.7 164.6h0M131.0 164.5h0M131.3 164.3h0M131.6 164.1h0M132.0 163.9h0M132.3 163.8h0M132.6 163.6h0M132.9 163.4h0M133.3 163.2h0M133.6 163.1h0M133.9 162.9h0M134.3 162.8h0M134.6 162.6h0M134.9 162.5h0M135.2 162.3h0M135.6 162.2h0M135.9 162.0h0M136.2 161.9h0M136.5 161.7h0M136.9 161.6h0M137.2 161.4h0M137.5 161.3h0M137.8 161.2h0M138.2 161.1h0M138.5 160.9h0M138.8 160.8h0M139.1 160.7h0M139.5 160.6h0M139.8 160.5h0M140.1 160.4h0M140.4 160.3h0M140.8 160.2h0M141.1 160.1h0M141.4 160.0h0M141.7 159.9h0M142.1 159.8h0M142.4 159.7h0M142.7 159.6h0M143.1 159.5h0M143.4 159.4h0M143.7 159.3h0M144.0 159.3h0M144.4 159.2h0M144.7 159.1h0M145.0 159.0h0M145.3 159.0h0M145.7 158.9h0M146.0 158.8h0M146.3 158.7h0M146.6 158.7h0M147.0 158.6h0M147.3 158.5h0M147.6 158.5h0M147.9 158.4h0M148.3 158.4h0M148.6 158.3h0M148.9 158.3h0M149.2 158.3h0M149.6 158.2h0M149.9 158.2h0M150.2 158.2h0M150.5 158.2h0M150.9 158.2h0M151.2 158.2h0M151.5 158.3h0M151.9 158.2h0M152.2 158.0h0M152.5 157.8h0M152.8 157.6h0M153.2 157.5h0M153.5 157.5h0M153.8 157.4h0M154.1 157.4h0M154.5 157.3h0M154.8 157.3h0M155.1 157.2h0M155.4 157.2h0M155.8 157.2h0M156.1 157.1h0M156.4 157.1h0M156.7 157.1h0M157.1 157.0h0M157.4 157.0h0M157.7 157.0h0M158.0 156.9h0M158.4 156.9h0M158.7 156.9h0M159.0 156.9h0M159.3 156.9h0M159.7 156.8h0M160.0 156.8h0M160.3 156.8h0M160.7 156.8h0M161.0 156.8h0M161.3 156.8h0M161.6 156.8h0M162.0 156.8h0M162.3 156.8h0M162.6 156.9h0M162.9 156.9h0M163.3 156.9h0M163.6 156.9h0M163.9 156.9h0M164.2 156.9h0M164.6 156.9h0M164.9 156.9h0M165.2 156.9h0M165.5 156.9h0M165.9 156.9h0M166.2 157.0h0M166.5 157.0h0M166.8 157.0h0M167.2 157.0h0M167.5 157.0h0M167.8 157.0h0M168.1 157.0h0M168.5 157.0h0M168.8 157.1h0M169.1 157.1h0M169.5 157.1h0M169.8 157.1h0M170.1 157.1h0M170.4 157.1h0M170.8 157.2h0M171.1 157.2h0M171.4 157.2h0M171.7 157.2h0M172.1 157.2h0M172.4 157.2h0M172.7 157.3h0M173.0 157.3h0M173.4 157.3h0M173.7 157.4h0M174.0 157.4h0M174.3 157.4h0M174.7 157.5h0M175.0 157.5h0M175.3 157.5h0M175.6 157.6h0M176.0 157.6h0M176.3 157.6h0M176.6 157.7h0M176.9 157.7h0M177.3 157.8h0M177.6 157.8h0M177.9 157.9h0M178.3 157.9h0M178.6 158.0h0M178.9 158.0h0M179.2 158.1h0M179.6 158.1h0M179.9 158.1h0M180.2 158.2h0M180.5 158.2h0M180.9 158.3h0M181.2 158.3h0M181.5 158.4h0M181.8 158.4h0M182.2 158.5h0M182.5 158.5h0M182.8 158.6h0M183.1 158.6h0M183.5 158.7h0M183.8 158.7h0M184.1 158.8h0M184.4 158.8h0M184.8 158.9h0M185.1 158.9h0M185.4 159.0h0M185.7 159.0h0M186.1 159.1h0M186.4 159.2h0M186.7 159.3h0M187.1 159.3h0M187.4 159.4h0M187.7 159.5h0M188.0 159.7h0M188.4 159.9h0M188.7 160.2h0M189.0 160.7h0M189.3 161.2h0M189.7 161.2h0M190.0 161.2h0M190.3 161.2h0M190.6 161.2h0M191.0 161.2h0M191.3 161.2h0M191.6 161.1h0M191.9 161.1h0M192.3 161.0h0M192.6 160.9h0M192.9 160.9h0M193.2 160.8h0M193.6 160.8h0M193.9 160.8h0M194.2 160.8h0M194.5 160.8h0M194.9 160.7h0M195.2 160.7h0M195.5 160.7h0M195.9 160.7h0M196.2 160.7h0M196.5 160.7h0M196.8 160.6h0M197.2 160.6h0M197.5 160.6h0M197.8 160.6h0M198.1 160.6h0M198.5 160.6h0M198.8 160.6h0M199.1 160.6h0M199.4 160.7h0M199.8 160.7h0M200.1 160.7h0M200.4 160.7h0M200.7 160.8h0M201.1 160.8h0M201.4 160.8h0M201.7 160.9h0M202.0 160.9h0M202.4 160.9h0M202.7 160.9h0M203.0 161.0h0M203.3 161.0h0M203.7 161.0h0M204.0 161.1h0M204.3 161.1h0M204.7 161.1h0M205.0 161.2h0M205.3 161.2h0M205.6 161.3h0M206.0 161.3h0M198.3 164.9h0M199.2 163.9h0M200.1 163.1h0M201.0 162.5h0M201.8 162.1h0M202.7 161.8h0M203.6 161.7h0M204.4 161.7h0M205.3 161.8h0M206.2 162.0h0M207.0 162.1h0M207.9 162.3h0M208.8 162.5h0M209.6 162.6h0M210.5 162.8h0M211.4 163.0h0M212.3 163.2h0M213.1 163.4h0M214.0 163.6h0M214.9 163.8h0M215.7 164.0h0M216.6 164.1h0M217.5 164.3h0M218.3 164.5h0M219.2 164.7h0M220.1 164.9h0M220.9 165.0h0M221.8 165.2h0M222.7 165.5h0M223.6 165.7h0M224.4 166.0h0M225.3 166.3h0M226.2 166.7h0M227.0 167.3h0M227.9 168.0h0M228.8 168.6h0M229.6 169.2h0M230.5 169.9h0M231.4 170.4h0M232.2 170.7h0M233.1 170.9h0M234.0 171.0h0M234.9 171.1h0M235.7 171.2h0M236.6 171.3h0M237.5 171.3h0M238.3 171.4h0M239.2 171.5h0M240.1 171.7h0M240.9 171.9h0M241.8 172.2h0M242.7 172.6h0M243.5 173.0h0M244.4 173.4h0M245.3 173.8h0M246.2 174.1h0M247.0 174.4h0M247.9 174.6h0M248.8 174.8h0M249.6 175.0h0M250.5 175.2h0M251.4 175.4h0M252.2 175.5h0M253.1 175.7h0M254.0 175.8h0M254.8 176.0h0M255.7 176.1h0M256.6 176.3h0M257.4 176.5h0M258.3 176.7h0M259.2 176.9h0M260.1 177.1h0M260.9 177.3h0M261.8 177.5h0M262.7 177.7h0M263.5 178.0h0M264.4 178.2h0M265.3 178.4h0M266.1 178.7h0M267.0 178.9h0M267.9 179.2h0M268.7 179.5h0M269.6 179.7h0M270.5 180.0h0M271.4 180.2h0M272.2 180.5h0M273.1 180.8h0M274.0 181.1h0M274.8 181.4h0M275.7 181.9h0M276.6 182.4h0M277.4 183.1h0M278.3 183.9h0M279.2 185.2h0M280.0 186.9h0M280.9 188.5h0M281.8 190.0h0M282.7 191.3h0M283.5 192.1h0M284.4 192.6h0M285.3 192.8h0M286.1 193.2h0M287.0 193.5h0M287.9 193.9h0M288.7 194.3h0M289.6 194.6h0M290.5 194.9h0M291.3 195.2h0M292.2 195.5h0M293.1 195.8h0M294.0 196.0h0M294.8 196.3h0M295.7 196.4h0M296.6 196.6h0M297.4 196.7h0M298.3 196.8h0M299.2 197.0h0M300.0 197.1h0M300.9 197.2h0M301.8 197.3h0M302.6 197.3h0M303.5 197.4h0M304.4 197.4h0M305.3 197.4h0M306.1 197.4h0M307.0 197.3h0M307.9 197.2h0M308.7 197.1h0M309.6 197.0h0M310.5 196.9h0M311.3 196.8h0M312.2 196.7h0M313.1 196.6h0M313.9 196.6h0M314.8 196.5h0M315.7 196.4h0M316.5 196.4h0M317.4 196.3h0M318.3 196.3h0M319.2 196.3h0M320.0 196.4h0M320.9 196.4h0M321.8 196.5h0M322.6 196.5h0M323.5 196.6h0M324.4 196.7h0M325.2 196.8h0M326.1 196.8h0M327.0 196.9h0M327.8 197.0h0M328.7 197.1h0M329.6 197.1h0M330.5 197.2h0M331.3 197.3h0M332.2 197.4h0M333.1 197.5h0M333.9 197.6h0M334.8 197.7h0M335.7 197.8h0M336.5 197.9h0M337.4 198.0h0M338.3 198.1h0M339.1 198.2h0M340.0 198.3h0M340.9 198.4h0M341.8 198.5h0M342.6 198.6h0M343.5 198.7h0M344.4 198.8h0M345.2 199.0h0M346.1 199.1h0M347.0 199.2h0M347.8 199.3h0M348.7 199.5h0M349.6 199.6h0M350.4 199.8h0M351.3 199.9h0M352.2 200.1h0M353.1 200.3h0M353.9 200.5h0M354.8 200.7h0M355.7 200.9h0M356.5 201.1h0M357.4 201.3h0M358.3 201.6h0M359.1 201.8h0M360.0 202.0h0M360.9 202.1h0M361.7 202.2h0M362.6 202.3h0M363.5 202.4h0M364.4 202.5h0M365.2 202.6h0M366.1 202.7h0M367.0 202.8h0M367.8 202.9h0M368.7 203.0h0M369.6 203.1h0M370.4 203.2h0M371.3 203.4h0M372.2 203.5h0M373.0 203.6h0M373.9 203.7h0M374.8 203.9h0M375.6 204.0h0M376.5 204.2h0M377.4 204.4h0M378.3 204.6h0M379.1 204.9h0M380.0 205.1h0M380.9 205.4h0M381.7 205.7h0M382.6 206.1h0M383.5 206.5h0M384.3 206.8h0M385.2 207.0h0M386.1 207.1h0M386.9 207.1h0M387.8 207.1h0M388.7 207.1h0M389.6 207.1h0M390.4 207.2h0M391.3 207.8h0M392.2 208.3h0M393.0 208.4h0M393.9 208.4h0M394.8 208.4h0M395.6 208.6h0M396.5 208.9h0M397.4 209.4h0M398.2 209.9h0M399.1 210.4h0M400.0 210.8h0M400.9 211.1h0M401.7 211.5h0M402.6 211.7h0M403.5 211.7h0M404.3 211.7h0M405.2 211.7h0M406.1 211.7h0M406.9 211.7h0M407.8 211.7h0M408.7 211.7h0M409.5 211.6h0M410.4 211.6h0M411.3 211.5h0M412.2 211.4h0M413.0 211.3h0M413.9 211.2h0M414.8 211.1h0M415.6 211.0h0M416.5 210.9h0M417.4 210.9h0M418.2 210.8h0M419.1 210.8h0M420.0 210.7h0M420.8 210.7h0M421.7 210.6h0M422.6 210.6h0M423.5 210.6h0M424.3 210.5h0M425.2 210.5h0M426.1 210.5h0M426.9 210.5h0M427.8 210.5h0M428.7 210.5h0M429.5 210.5h0M430.4 210.5h0M431.3 210.5h0M432.1 210.6h0M433.0 210.6h0M433.9 210.6h0M434.7 210.7h0M435.6 210.7h0M436.5 210.7h0M437.4 210.8h0M438.2 210.8h0M439.1 210.8h0M440.0 210.8h0M440.8 210.8h0M441.7 210.8h0M442.6 210.9h0M443.4 210.9h0M444.3 210.9h0M445.2 210.9h0M446.0 210.9h0M446.9 210.9h0M447.8 211.0h0M448.7 211.0h0M449.5 211.0h0M450.4 211.0h0M451.3 211.0h0M452.1 211.0h0M453.0 211.1h0M453.9 211.1h0M454.7 211.1h0M455.6 211.1h0M456.5 211.1h0M457.3 211.1h0M458.2 211.1h0M459.1 211.2h0M460.0 211.2h0M460.8 211.2h0M461.7 211.2h0M462.6 211.2h0M463.4 211.2h0M464.3 211.2h0M465.2 211.2h0M466.0 211.2h0M466.9 211.3h0M467.8 211.3h0M468.6 211.3h0M469.5 211.3h0M470.4 211.3h0M471.3 211.3h0M472.1 211.4h0M473.0 211.4h0M473.9 211.4h0M474.7 211.5h0M475.6 211.5h0M476.5 211.6h0M477.3 211.7h0M478.2 211.8h0M479.1 211.9h0M479.9 211.9h0M480.8 212.0h0M481.7 212.1h0M482.6 212.2h0M483.4 212.3h0M484.3 212.4h0M485.2 212.5h0M486.0 212.5h0M486.9 212.6h0M487.8 212.6h0M488.6 212.6h0M489.5 212.7h0M490.4 212.7h0M491.2 212.7h0M492.1 212.8h0M493.0 212.8h0M493.8 212.8h0M494.7 212.9h0M495.6 212.9h0M496.5 212.9h0M497.3 212.9h0M498.2 213.0h0M499.1 213.0h0M499.9 213.0h0M500.8 213.0h0M501.7 213.0h0M502.5 213.1h0M503.4 213.1h0M504.3 213.1h0M505.1 213.2h0M506.0 213.2h0M506.9 213.2h0M507.8 213.2h0M508.6 213.3h0M509.5 213.3h0M510.4 213.4h0M511.2 213.4h0M512.1 213.4h0M513.0 213.5h0M513.8 213.5h0M514.7 213.5h0M515.6 213.6h0M516.4 213.6h0M517.3 213.6h0M518.2 213.7h0M519.1 213.7h0M519.9 213.8h0M520.8 213.8h0M521.7 213.8h0M522.5 213.9h0M523.4 213.9h0M524.3 213.9h0M525.1 214.0h0M526.0 214.0h0M526.9 214.1h0M527.7 214.1h0M528.6 214.1h0M529.5 214.2h0" stroke="#2ca02c"/></g><path d="M95.14 236.35V442.55M149.46 236.35V442.55M203.78 236.35V442.55M258.10 236.35V442.55M312.42 236.35V442.55M366.74 236.35V442.55M421.06 236.35V442.55M475.38 236.35V442.55M529.70 236.35V442.55M62.55 442.55H529.70M62.55 401.31H529.70M62.55 360.07H529.70M62.55 318.83H529.70M62.55 277.59H529.70M62.55 236.35H529.70" stroke="#b0b0b0" stroke-width="0.90" fill="none"/><g clip-path="url(#cb)" fill="none" stroke-width="1.75" stroke-linejoin="round"><path d="M62.5 259.0L63.0 259.8L66.2 274.4L70.4 284.8L72.5 286.9L77.8 287.5L80.8 289.5L83.2 290.0L344.6 290.0L350.0 280.9L355.0 279.5L361.1 279.2L366.1 275.9L372.0 274.9L377.0 278.4L383.0 277.2L388.7 272.3L395.0 273.9L400.0 275.5L405.0 275.9L411.1 278.4L416.9 275.9L421.3 272.9L426.9 273.9L433.0 275.9L438.9 273.9L442.8 274.3L447.8 277.2L453.7 277.2L463.9 274.3L469.5 278.2L474.7 274.3L481.0 278.2L491.2 276.8L507.3 276.6L513.0 273.9L529.7 273.9" stroke="#1f77b4"/><path d="M62.5 244.3L62.8 246.3L63.0 248.4L63.2 249.3L63.4 249.9L63.6 248.0L63.9 247.5L64.1 251.0L64.3 253.1L64.5 252.3L64.7 252.8L64.9 255.6L65.2 258.2L65.4 257.7L65.6 258.5L65.8 262.3L66.0 265.6L66.2 268.6L66.5 271.0L66.7 270.5L66.9 269.5L67.1 269.4L67.3 268.4L67.5 268.6L67.8 273.2L68.0 278.4L68.2 276.6L68.4 274.2L68.6 276.3L68.9 279.9L69.1 281.1L69.3 282.0L69.5 281.2L69.7 280.2L69.9 282.4L70.2 282.9L70.4 282.9L70.6 285.6L70.8 287.0L71.0 287.3L71.2 289.6L71.5 292.2L71.7 290.5L71.9 290.7L72.1 294.0L72.3 293.9L72.5 294.9L72.8 295.5L73.0 293.6L73.2 296.2L73.4 301.1L73.6 301.0L73.8 300.5L74.1 301.7L74.3 302.5L74.5 303.4L74.7 303.1L74.9 304.0L75.2 307.4L75.4 309.5L75.6 310.4L75.8 311.8L76.0 314.0L76.2 314.3L76.5 312.3L76.7 310.4L76.9 311.8L77.1 316.3L77.3 316.9L77.5 316.7L77.8 319.6L78.0 319.3L78.2 316.7L78.4 313.9L78.6 313.6L78.8 314.8L79.1 314.7L79.3 312.2L79.5 310.1L79.7 310.7L79.9 310.5L80.1 308.9L80.4 308.3L80.6 308.5L80.8 308.1L81.0 307.3L81.2 305.9L81.5 304.3L81.7 304.2L81.9 304.6L82.1 304.6L82.3 304.4L82.5 303.8L82.8 303.7L83.0 304.4L83.2 304.9L83.4 305.0L83.6 306.2L83.8 306.4L84.1 304.8L84.3 303.8L84.5 302.1L84.7 301.0L84.9 302.4L85.1 303.2L85.4 302.3L85.6 302.0L85.8 302.5L86.0 302.4L86.2 301.8L86.5 302.2L86.7 303.3L86.9 303.1L87.1 303.1L87.3 303.4L87.5 303.3L87.8 302.9L88.0 302.2L88.2 302.2L88.4 302.9L88.6 303.3L88.8 304.1L89.1 305.2L89.3 304.6L89.5 304.0L89.7 304.3L89.9 303.9L90.1 303.8L90.4 303.5L90.6 303.1L90.8 302.8L91.0 303.3L91.2 303.9L91.4 302.6L91.7 302.4L91.9 304.1L92.1 305.3L92.3 306.1L92.5 306.3L92.8 306.1L93.0 306.8L93.2 307.9L93.4 308.7L93.6 310.0L93.8 310.2L94.1 309.8L94.3 310.3L94.5 311.2L94.7 312.7L94.9 314.4L95.1 315.4L95.4 316.0L95.6 316.7L95.8 317.6L96.0 319.0L96.2 320.5L96.4 319.5L96.7 318.2L96.9 319.3L97.1 320.1L97.3 318.7L97.5 318.5L97.7 319.9L98.0 320.4L98.2 320.7L98.4 320.9L98.6 319.6L98.8 319.2L99.1 319.8L99.3 320.0L99.5 319.8L99.7 320.0L99.9 320.6L100.1 321.4L100.4 320.9L100.6 319.6L100.8 319.8L101.0 320.1L101.2 320.3L101.4 320.9L101.7 320.7L101.9 320.2L102.1 320.5L102.3 320.8L102.5 320.2L102.7 319.4L103.0 319.6L103.2 320.5L103.4 321.8L103.6 322.0L103.8 320.4L104.1 320.0L104.3 320.7L104.5 320.5L104.7 320.1L104.9 319.6L105.1 319.8L105.4 319.8L105.6 319.6L105.8 319.9L106.0 319.1L106.2 318.1L106.4 317.3L106.7 316.2L106.9 316.9L107.1 319.1L107.3 319.4L107.5 317.9L107.7 317.7L108.0 316.6L108.2 315.8L108.4 317.2L108.6 317.0L108.8 314.5L109.0 313.1L109.3 312.6L109.5 312.2L109.7 312.5L109.9 312.2L110.1 311.0L110.4 310.7L110.6 310.0L110.8 308.0L111.0 307.2L111.2 307.4L111.4 308.1L111.7 308.4L111.9 308.3L112.1 307.7L112.3 306.9L112.5 306.6L112.7 305.9L113.0 304.5L113.2 304.4L113.4 305.3L113.6 305.1L113.8 304.7L114.0 305.5L114.3 306.1L114.5 305.1L114.7 303.9L114.9 303.8L115.1 304.0L115.3 303.4L115.6 302.7L115.8 303.8L116.0 305.4L116.2 305.4L116.4 306.4L116.7 306.8L116.9 303.6L117.1 301.3L117.3 301.9L117.5 303.3L117.7 302.5L118.0 300.9L118.2 300.7L118.4 301.1L118.6 301.0L118.8 300.5L119.0 299.8L119.3 299.6L119.5 300.4L119.7 300.8L119.9 300.3L120.1 299.8L120.3 299.6L120.6 300.2L120.8 300.0L121.0 299.8L121.2 299.4L121.4 297.4L121.6 297.0L121.9 298.0L122.1 297.8L122.3 298.7L122.5 300.2L122.7 299.1L123.0 298.0L123.2 298.5L123.4 299.1L123.6 298.8L123.8 297.8L124.0 297.0L124.3 297.2L124.5 297.2L124.7 296.9L124.9 297.9L125.1 299.3L125.3 298.9L125.6 296.9L125.8 296.0L126.0 296.4L126.2 296.8L126.4 297.3L126.6 297.6L126.9 297.9L127.1 297.9L127.3 297.0L127.5 296.1L127.7 296.5L128.0 297.6L128.2 298.3L128.4 297.6L128.6 296.2L128.8 296.3L129.0 297.3L129.3 298.1L129.5 298.5L129.7 297.5L129.9 296.8L130.1 297.3L130.3 297.7L130.6 297.5L130.8 297.9L131.0 298.6L131.2 298.4L131.4 297.6L131.6 297.0L131.9 297.1L132.1 296.3L132.3 295.7L132.5 296.9L132.7 297.5L132.9 297.0L133.2 297.3L133.4 297.5L133.6 296.0L133.8 295.1L134.0 296.2L134.3 297.5L134.5 297.6L134.7 297.4L134.9 298.1L135.1 297.6L135.3 296.4L135.6 296.3L135.8 295.4L136.0 294.7L136.2 295.4L136.4 295.1L136.6 294.7L136.9 296.0L137.1 297.5L137.3 297.7L137.5 296.2L137.7 294.6L137.9 295.2L138.2 296.9L138.4 297.5L138.6 296.8L138.8 296.1L139.0 296.0L139.2 295.8L139.5 295.8L139.7 296.1L139.9 296.0L140.1 295.8L140.3 295.6L140.6 294.7L140.8 293.9L141.0 294.5L141.2 296.1L141.4 297.0L141.6 296.9L141.9 297.8L142.1 297.3L142.3 295.1L142.5 294.7L142.7 296.1L142.9 297.2L143.2 296.8L143.4 295.9L143.6 294.2L143.8 293.2L144.0 294.5L144.2 296.4L144.5 296.6L144.7 295.8L144.9 295.8L145.1 296.2L145.3 296.0L145.6 295.5L145.8 294.2L146.0 293.3L146.2 293.9L146.4 294.7L146.6 294.7L146.9 294.9L147.1 295.4L147.3 295.8L147.5 296.7L147.7 296.2L147.9 294.7L148.2 294.4L148.4 294.1L148.6 294.4L148.8 296.0L149.0 295.9L149.2 294.5L149.5 294.3L149.7 294.2L149.9 293.6L150.1 294.3L150.3 295.7L150.5 295.3L150.8 293.8L151.0 294.3L151.2 295.0L151.4 293.5L151.6 292.5L151.9 292.8L152.1 293.8L152.3 294.8L152.5 293.9L152.7 292.3L152.9 292.3L153.2 292.8L153.4 293.5L153.6 294.5L153.8 295.2L154.0 294.2L154.2 293.4L154.5 293.6L154.7 292.9L154.9 293.1L155.1 294.3L155.3 294.4L155.5 293.9L155.8 293.7L156.0 294.0L156.2 294.2L156.4 294.2L156.6 294.8L156.8 294.9L157.1 293.6L157.3 293.4L157.5 294.5L157.7 294.5L157.9 294.7L158.2 294.5L158.4 293.7L158.6 293.3L158.8 293.3L159.0 293.9L159.2 294.2L159.5 294.5L159.7 294.7L159.9 294.2L160.1 294.0L160.3 294.1L160.5 294.8L160.8 295.6L161.0 295.2L161.2 294.4L161.4 294.4L161.6 295.3L161.8 296.2L162.1 296.3L162.3 295.8L162.5 296.7L162.7 297.5L162.9 295.8L163.2 295.3L163.4 297.1L163.6 297.8L163.8 297.6L164.0 297.3L164.2 296.8L164.5 297.2L164.7 297.3L164.9 296.8L165.1 297.0L165.3 297.3L165.5 298.3L165.8 299.6L166.0 298.7L166.2 296.8L166.4 297.0L166.6 297.7L166.8 297.7L167.1 297.9L167.3 297.2L167.5 297.1L167.7 299.1L167.9 300.9L168.1 300.9L168.4 300.1L168.6 298.5L168.8 298.5L169.0 300.3L169.2 301.2L169.5 299.8L169.7 299.8L169.9 301.4L170.1 301.1L170.3 300.3L170.5 300.2L170.8 300.9L171.0 301.7L171.2 302.3L171.4 301.3L171.6 299.4L171.8 299.5L172.1 300.9L172.3 302.4L172.5 302.9L172.7 301.9L172.9 301.0L173.1 301.0L173.4 301.5L173.6 302.0L173.8 301.5L174.0 300.6L174.2 299.3L174.4 299.2L174.7 300.9L174.9 302.0L175.1 301.9L175.3 302.2L175.5 302.3L175.8 302.3L176.0 302.2L176.2 301.3L176.4 300.9L176.6 301.0L176.8 301.2L177.1 301.9L177.3 301.8L177.5 301.3L177.7 300.7L177.9 300.2L178.1 300.4L178.4 301.0L178.6 300.8L178.8 300.9L179.0 300.6L179.2 300.6L179.4 301.0L179.7 299.6L179.9 298.6L180.1 298.8L180.3 299.0L180.5 299.2L180.7 299.2L181.0 298.8L181.2 298.3L181.4 298.4L181.6 298.6L181.8 297.9L182.1 297.5L182.3 297.9L182.5 297.8L182.7 298.0L182.9 298.5L183.1 297.7L183.4 296.9L183.6 296.9L183.8 297.2L184.0 297.9L184.2 297.5L184.4 296.7L184.7 296.5L184.9 297.5L185.1 298.2L185.3 296.8L185.5 295.5L185.7 295.7L186.0 297.1L186.2 297.8L186.4 296.9L186.6 297.9L186.8 299.4L187.1 298.8L187.3 299.2L187.5 299.8L187.7 298.4L187.9 297.3L188.1 297.7L188.4 297.4L188.6 296.2L188.8 296.6L189.0 298.1L189.2 299.6L189.4 300.4L189.7 300.0L189.9 298.9L190.1 298.8L190.3 298.8L190.5 299.0L190.7 300.0L191.0 299.9L191.2 299.2L191.4 298.9L191.6 299.0L191.8 299.9L192.0 300.7L192.3 301.2L192.5 302.6L192.7 303.0L192.9 301.8L193.1 301.5L193.4 302.5L193.6 303.8L193.8 303.8L194.0 303.8L194.2 305.0L194.4 305.8L194.7 304.3L194.9 302.9L195.1 303.4L195.3 304.4L195.5 304.2L195.7 305.1L196.0 306.9L196.2 306.0L196.4 304.5L196.6 304.0L196.8 303.6L197.0 304.0L197.3 305.0L197.5 305.2L197.7 305.4L197.9 306.2L198.1 306.0L198.3 304.7L198.6 304.4L198.8 305.7L199.0 306.5L199.2 303.5L199.4 300.8L199.7 298.5L199.9 296.5L200.1 296.7L200.3 296.1L200.5 294.1L200.7 291.8L201.0 291.3L201.2 293.0L201.4 292.2L201.6 289.6L201.8 289.8L202.0 289.0L202.3 285.3L202.5 283.4L202.7 283.7L202.9 283.3L203.1 281.9L203.3 280.9L203.6 280.6L203.8 282.1L204.0 282.1L204.2 280.2L204.4 278.9L204.7 276.7L204.9 276.2L205.1 276.7L205.3 275.4L205.5 273.2L205.7 271.7L206.0 272.1" stroke="#ff7f0e" stroke-dasharray="5.92 2.56"/><path d="M198.3 302.9L198.8 304.8L199.2 307.8L199.7 309.2L200.1 310.0L200.5 312.6L201.0 315.0L201.4 315.4L201.8 316.5L202.3 319.2L202.7 321.7L203.1 321.7L203.6 321.1L204.0 322.2L204.4 323.1L204.9 323.2L205.3 323.9L205.7 324.8L206.2 325.7L206.6 327.0L207.0 328.1L207.5 328.0L207.9 327.3L208.3 328.3L208.8 330.0L209.2 330.4L209.6 329.9L210.1 330.3L210.5 332.2L211.0 332.8L211.4 330.5L211.8 328.5L212.3 329.3L212.7 330.9L213.1 330.2L213.6 329.9L214.0 331.8L214.4 332.5L214.9 332.0L215.3 332.4L215.7 333.8L216.2 334.2L216.6 332.9L217.0 329.3L217.5 331.5L217.9 335.4L218.3 339.0L218.8 336.5L219.2 334.5L219.6 333.8L220.1 333.6L220.5 337.5L220.9 339.9L221.4 337.5L221.8 337.2L222.3 337.9L222.7 337.8L223.1 340.3L223.6 340.6L224.0 334.9L224.4 332.2L224.9 330.6L225.3 330.0L225.7 335.1L226.2 341.8L226.6 342.4L227.0 340.7L227.5 338.1L227.9 338.4L228.3 340.3L228.8 339.2L229.2 338.5L229.6 336.7L230.1 335.7L230.5 336.4L230.9 336.6L231.4 337.7L231.8 340.1L232.2 341.1L232.7 335.3L233.1 329.6L233.5 328.4L234.0 329.9L234.4 333.1L234.9 334.5L235.3 333.0L235.7 334.0L236.2 336.0L236.6 336.1L237.0 336.1L237.5 336.5L237.9 337.6L238.3 339.0L238.8 334.9L239.2 331.1L239.6 333.3L240.1 335.5L240.5 333.7L240.9 334.5L241.4 337.7L241.8 336.2L242.2 333.3L242.7 333.7L243.1 333.1L243.5 332.6L244.0 335.2L244.4 336.8L244.8 334.9L245.3 334.9L245.7 339.7L246.2 340.9L246.6 336.9L247.0 333.9L247.5 332.0L247.9 333.5L248.3 336.8L248.8 336.0L249.2 336.2L249.6 336.9L250.1 336.2L250.5 340.2L250.9 343.8L251.4 341.8L251.8 341.3L252.2 338.8L252.7 335.1L253.1 332.7L253.5 332.0L254.0 336.0L254.4 341.3L254.8 341.2L255.3 341.0L255.7 339.6L256.1 336.9L256.6 339.4L257.0 341.1L257.4 336.5L257.9 334.7L258.3 334.8L258.8 334.2L259.2 334.0L259.6 333.4L260.1 332.4L260.5 332.9L260.9 333.8L261.4 336.0L261.8 339.2L262.2 338.3L262.7 336.3L263.1 337.2L263.5 336.8L264.0 333.4L264.4 334.9L264.8 341.4L265.3 342.9L265.7 338.8L266.1 337.2L266.6 337.5L267.0 337.2L267.4 336.5L267.9 336.0L268.3 336.9L268.7 335.5L269.2 331.0L269.6 330.3L270.1 335.5L270.5 339.2L270.9 337.2L271.4 335.9L271.8 337.9L272.2 338.1L272.7 337.1L273.1 339.1L273.5 339.7L274.0 340.6L274.4 344.5L274.8 343.0L275.3 337.6L275.7 335.1L276.1 337.3L276.6 340.6L277.0 337.0L277.4 332.5L277.9 332.3L278.3 334.9L278.7 335.8L279.2 334.4L279.6 336.3L280.0 339.3L280.5 335.7L280.9 331.4L281.4 330.7L281.8 331.7L282.2 332.7L282.7 333.0L283.1 334.5L283.5 332.1L284.0 328.2L284.4 330.1L284.8 334.3L285.3 334.3L285.7 331.8L286.1 331.3L286.6 335.8L287.0 339.9L287.4 336.8L287.9 334.0L288.3 332.0L288.7 330.4L289.2 330.7L289.6 332.7L290.0 334.3L290.5 330.6L290.9 327.8L291.3 329.7L291.8 332.4L292.2 331.5L292.6 331.2L293.1 334.6L293.5 335.4L294.0 332.9L294.4 333.1L294.8 334.8L295.3 335.2L295.7 335.4L296.1 335.6L296.6 337.2L297.0 338.9L297.4 336.1L297.9 334.8L298.3 337.4L298.7 336.7L299.2 335.8L299.6 337.4L300.0 338.1L300.5 336.8L300.9 332.0L301.3 328.2L301.8 329.6L302.2 333.2L302.6 334.2L303.1 334.6L303.5 333.7L303.9 333.7L304.4 335.9L304.8 335.0L305.3 333.2L305.7 332.6L306.1 334.6L306.6 337.0L307.0 335.2L307.4 333.9L307.9 334.4L308.3 335.4L308.7 339.6L309.2 341.4L309.6 335.5L310.0 333.2L310.5 334.7L310.9 334.5L311.3 334.1L311.8 336.7L312.2 338.7L312.6 335.9L313.1 335.1L313.5 336.5L313.9 335.6L314.4 337.6L314.8 338.1L315.2 334.5L315.7 336.4L316.1 340.3L316.5 337.5L317.0 333.1L317.4 332.9L317.9 335.3L318.3 334.9L318.7 334.8L319.2 336.4L319.6 336.1L320.0 336.5L320.5 338.2L320.9 338.0L321.3 336.6L321.8 336.7L322.2 338.2L322.6 336.6L323.1 333.9L323.5 333.5L323.9 332.8L324.4 332.1L324.8 331.4L325.2 331.7L325.7 334.6L326.1 335.7L326.5 334.0L327.0 331.0L327.4 332.7L327.8 340.7L328.3 340.7L328.7 335.0L329.2 333.1L329.6 333.9L330.0 335.1L330.5 334.7L330.9 334.5L331.3 334.6L331.8 336.7L332.2 340.3L332.6 339.1L333.1 337.0L333.5 335.7L333.9 336.9L334.4 338.5L334.8 337.8L335.2 339.6L335.7 342.6L336.1 342.3L336.5 337.9L337.0 334.2L337.4 333.8L337.8 334.5L338.3 334.3L338.7 335.4L339.1 336.1L339.6 334.2L340.0 333.9L340.4 336.4L340.9 337.8L341.3 337.2L341.8 337.7L342.2 337.5L342.6 335.7L343.1 335.8L343.5 337.0L343.9 337.7L344.4 336.3L344.8 335.8L345.2 334.9L345.7 332.4L346.1 331.9L346.5 331.6L347.0 333.4L347.4 337.6L347.8 338.0L348.3 336.1L348.7 336.0L349.1 336.9L349.6 339.8L350.0 342.6L350.4 343.2L350.9 342.9L351.3 339.7L351.7 339.2L352.2 340.1L352.6 338.1L353.1 338.5L353.5 343.4L353.9 346.5L354.4 346.4L354.8 346.9L355.2 340.5L355.7 336.1L356.1 337.3L356.5 339.0L357.0 339.9L357.4 339.0L357.8 338.2L358.3 337.6L358.7 334.7L359.1 333.4L359.6 335.4L360.0 338.7L360.4 339.7L360.9 338.2L361.3 337.1L361.7 336.4L362.2 334.9L362.6 335.8L363.0 340.5L363.5 339.1L363.9 335.4L364.4 337.2L364.8 339.1L365.2 339.5L365.7 339.6L366.1 333.9L366.5 328.9L367.0 331.0L367.4 337.2L367.8 339.1L368.3 335.7L368.7 334.2L369.1 337.0L369.6 337.2L370.0 333.6L370.4 333.5L370.9 337.5L371.3 342.4L371.7 344.0L372.2 344.7L372.6 343.6L373.0 339.2L373.5 337.7L373.9 335.2L374.3 331.9L374.8 333.9L375.2 337.3L375.6 334.8L376.1 333.8L376.5 338.0L377.0 339.8L377.4 339.6L377.8 338.0L378.3 336.8L378.7 341.6L379.1 342.2L379.6 337.2L380.0 335.2L380.4 333.8L380.9 333.5L381.3 332.7L381.7 333.8L382.2 337.7L382.6 337.1L383.0 334.7L383.5 333.1L383.9 333.0L384.3 335.3L384.8 334.0L385.2 330.5L385.6 330.8L386.1 330.3L386.5 325.5L386.9 325.7L387.4 331.3L387.8 328.8L388.3 324.3L388.7 325.7L389.1 328.9L389.6 330.8L390.0 331.5L390.4 331.3L390.9 329.9L391.3 328.3L391.7 329.4L392.2 331.8L392.6 332.2L393.0 331.0L393.5 330.5L393.9 327.9L394.3 324.9L394.8 324.7L395.2 325.0L395.6 325.3L396.1 326.2L396.5 327.0L396.9 325.6L397.4 324.1L397.8 323.0L398.2 319.7L398.7 319.5L399.1 321.5L399.5 320.8L400.0 319.7L400.4 320.1L400.9 320.1L401.3 320.2L401.7 325.9L402.2 332.9L402.6 333.4L403.0 332.8L403.5 328.2L403.9 325.1L404.3 328.1L404.8 334.2L405.2 332.9L405.6 329.3L406.1 331.2L406.5 333.4L406.9 331.4L407.4 329.7L407.8 331.7L408.2 335.1L408.7 335.8L409.1 336.6L409.5 340.1L410.0 341.7L410.4 340.8L410.8 341.1L411.3 340.0L411.7 336.2L412.2 335.0L412.6 338.8L413.0 341.2L413.5 339.9L413.9 338.0L414.3 337.8L414.8 341.2L415.2 345.7L415.6 348.0L416.1 344.7L416.5 340.6L416.9 341.5L417.4 344.3L417.8 343.5L418.2 341.2L418.7 341.0L419.1 342.9L419.5 345.8L420.0 349.4L420.4 345.2L420.8 341.9L421.3 347.1L421.7 346.1L422.1 342.1L422.6 343.7L423.0 344.9L423.5 343.0L423.9 341.7L424.3 344.8L424.8 348.6L425.2 346.5L425.6 345.3L426.1 344.0L426.5 340.5L426.9 338.0L427.4 338.6L427.8 340.0L428.2 337.8L428.7 335.6L429.1 335.1L429.5 336.2L430.0 339.7L430.4 340.6L430.8 340.8L431.3 343.7L431.7 343.3L432.1 342.9L432.6 346.1L433.0 349.9L433.4 347.2L433.9 341.0L434.3 337.3L434.7 337.2L435.2 340.0L435.6 343.0L436.1 343.2L436.5 341.3L436.9 340.0L437.4 337.1L437.8 335.4L438.2 340.2L438.7 347.3L439.1 349.0L439.5 349.7L440.0 344.3L440.4 337.7L440.8 339.5L441.3 343.3L441.7 338.2L442.1 335.8L442.6 339.7L443.0 342.7L443.4 340.9L443.9 337.9L444.3 335.4L444.7 333.6L445.2 332.9L445.6 332.6L446.0 332.9L446.5 337.0L446.9 342.7L447.4 340.7L447.8 338.1L448.2 337.5L448.7 336.5L449.1 339.0L449.5 338.8L450.0 334.0L450.4 333.4L450.8 334.4L451.3 332.9L451.7 332.5L452.1 337.8L452.6 346.8L453.0 344.2L453.4 340.6L453.9 339.8L454.3 335.1L454.7 332.9L455.2 337.0L455.6 336.5L456.0 331.9L456.5 335.2L456.9 339.4L457.3 335.2L457.8 333.9L458.2 334.6L458.6 333.6L459.1 335.7L459.5 337.3L460.0 333.3L460.4 331.9L460.8 333.5L461.3 333.2L461.7 329.0L462.1 326.7L462.6 328.9L463.0 329.6L463.4 330.6L463.9 331.4L464.3 328.9L464.7 326.8L465.2 326.7L465.6 329.5L466.0 333.4L466.5 332.8L466.9 329.3L467.3 326.6L467.8 325.6L468.2 326.0L468.6 324.9L469.1 324.6L469.5 329.3L469.9 336.8L470.4 339.7L470.8 333.4L471.3 327.9L471.7 327.5L472.1 326.0L472.6 323.7L473.0 322.7L473.4 324.1L473.9 327.8L474.3 329.2L474.7 328.3L475.2 328.6L475.6 329.8L476.0 326.8L476.5 326.1L476.9 330.5L477.3 331.4L477.8 330.1L478.2 327.4L478.6 325.3L479.1 325.6L479.5 327.7L479.9 329.5L480.4 327.4L480.8 326.6L481.2 326.1L481.7 329.7L482.1 338.6L482.6 333.8L483.0 325.0L483.4 321.9L483.9 323.2L484.3 327.1L484.7 327.8L485.2 321.6L485.6 319.4L486.0 323.3L486.5 328.7L486.9 329.5L487.3 321.2L487.8 316.7L488.2 318.1L488.6 319.6L489.1 322.4L489.5 324.3L489.9 323.3L490.4 325.9L490.8 325.8L491.2 321.7L491.7 320.0L492.1 320.3L492.5 322.3L493.0 326.8L493.4 328.3L493.8 325.4L494.3 326.6L494.7 330.4L495.2 329.5L495.6 328.7L496.0 332.0L496.5 333.6L496.9 328.7L497.3 321.6L497.8 316.0L498.2 315.8L498.6 322.1L499.1 322.3L499.5 317.6L499.9 318.4L500.4 317.2L500.8 314.4L501.2 318.0L501.7 324.7L502.1 323.3L502.5 317.5L503.0 317.4L503.4 322.4L503.8 320.9L504.3 315.0L504.7 314.2L505.1 315.5L505.6 313.3L506.0 314.6L506.5 319.9L506.9 317.0L507.3 313.5L507.8 317.9L508.2 322.5L508.6 315.4L509.1 308.1L509.5 309.1L509.9 311.3L510.4 308.0L510.8 308.4L511.2 307.1L511.7 303.9L512.1 304.7L512.5 308.5L513.0 310.8L513.4 308.9L513.8 313.3L514.3 312.1L514.7 301.8L515.1 299.1L515.6 301.5L516.0 303.6L516.4 300.5L516.9 297.4L517.3 298.5L517.7 303.5L518.2 307.8L518.6 309.7L519.1 315.8L519.5 313.1L519.9 305.9L520.4 304.7L520.8 303.2L521.2 298.3L521.7 293.8L522.1 294.0L522.5 295.9L523.0 296.5L523.4 299.4L523.8 298.7L524.3 297.1L524.7 300.0L525.1 301.9L525.6 300.9L526.0 294.7L526.4 291.3L526.9 293.7L527.3 295.4L527.7 297.5L528.2 300.4L528.6 295.1L529.0 285.8L529.5 282.4" stroke="#ff7f0e" stroke-dasharray="5.92 2.56"/><path d="M62.5 299.4L62.8 299.9L63.0 300.3L63.2 300.6L63.4 300.8L63.6 301.1L63.9 301.4L64.1 301.7L64.3 301.9L64.5 302.2L64.7 302.5L64.9 302.8L65.2 303.1L65.4 303.3L65.6 303.6L65.8 303.9L66.0 304.2L66.2 304.5L66.5 304.7L66.7 305.0L66.9 305.3L67.1 305.6L67.3 305.9L67.5 306.1L67.8 306.4L68.0 306.7L68.2 307.0L68.4 307.2L68.6 307.5L68.9 307.8L69.1 308.1L69.3 308.4L69.5 308.6L69.7 308.9L69.9 309.2L70.2 309.5L70.4 309.8L70.6 310.1L70.8 310.4L71.0 310.7L71.2 311.0L71.5 311.4L71.7 311.7L71.9 312.0L72.1 312.3L72.3 312.6L72.5 313.0L72.8 313.3L73.0 313.6L73.2 313.9L73.4 314.2L73.6 314.6L73.8 314.9L74.1 315.2L74.3 315.5L74.5 315.8L74.7 316.2L74.9 316.5L75.2 316.8L75.4 317.1L75.6 317.4L75.8 317.8L76.0 318.1L76.2 318.4L76.5 318.7L76.7 319.0L76.9 319.3L77.1 319.6L77.3 319.9L77.5 320.2L77.8 320.5L78.0 320.8L78.2 321.1L78.4 321.5L78.6 321.8L78.8 322.1L79.1 322.4L79.3 322.7L79.5 323.0L79.7 323.3L79.9 323.6L80.1 323.9L80.4 324.2L80.6 324.5L80.8 324.8L81.0 325.1L81.2 325.4L81.5 325.7L81.7 326.0L81.9 326.3L82.1 326.6L82.3 326.9L82.5 327.2L82.8 327.5L83.0 327.6L83.2 327.7L83.4 327.8L83.6 327.9L83.8 328.0L84.1 328.1L84.3 328.2L84.5 328.3L84.7 328.3L84.9 328.4L85.1 328.5L85.4 328.6L85.6 328.7L85.8 328.8L86.0 328.9L86.2 329.0L86.5 329.1L86.7 329.2L86.9 329.3L87.1 329.4L87.3 329.5L87.5 329.6L87.8 329.7L88.0 329.8L88.2 329.9L88.4 330.0L88.6 330.1L88.8 330.2L89.1 330.3L89.3 330.3L89.5 330.4L89.7 330.5L89.9 330.6L90.1 330.7L90.4 330.8L90.6 330.9L90.8 331.0L91.0 331.1L91.2 331.2L91.4 331.2L91.7 331.3L91.9 331.3L92.1 331.4L92.3 331.4L92.5 331.5L92.8 331.5L93.0 331.5L93.2 331.6L93.4 331.6L93.6 331.7L93.8 331.7L94.1 331.8L94.3 331.8L94.5 331.8L94.7 331.9L94.9 331.9L95.1 332.0L95.4 332.0L95.6 332.1L95.8 332.1L96.0 332.1L96.2 332.2L96.4 332.2L96.7 332.3L96.9 332.3L97.1 332.4L97.3 332.4L97.5 332.4L97.7 332.5L98.0 332.5L98.2 332.6L98.4 332.6L98.6 332.7L98.8 332.7L99.1 332.7L99.3 332.8L99.5 332.8L99.7 332.9L99.9 332.9L100.1 333.0L100.4 333.0L100.6 333.0L100.8 333.1L101.0 333.1L101.2 333.2L101.4 333.2L101.7 333.3L101.9 333.3L102.1 333.3L102.3 333.3L102.5 333.4L102.7 333.4L103.0 333.4L103.2 333.4L103.4 333.5L103.6 333.5L103.8 333.5L104.1 333.6L104.3 333.6L104.5 333.6L104.7 333.6L104.9 333.7L105.1 333.7L105.4 333.7L105.6 333.7L105.8 333.8L106.0 333.8L106.2 333.8L106.4 333.8L106.7 333.9L106.9 333.9L107.1 333.9L107.3 333.9L107.5 334.0L107.7 334.0L108.0 334.0L108.2 334.0L108.4 334.1L108.6 334.1L108.8 334.1L109.0 334.1L109.3 334.2L109.5 334.2L109.7 334.2L109.9 334.3L110.1 334.3L110.4 334.3L110.6 334.3L110.8 334.4L111.0 334.4L111.2 334.4L111.4 334.4L111.7 334.5L111.9 334.5L112.1 334.5L112.3 334.5L112.5 334.6L112.7 334.6L113.0 334.6L113.2 334.6L113.4 334.7L113.6 334.7L113.8 334.7L114.0 334.7L114.3 334.8L114.5 334.8L114.7 334.8L114.9 334.9L115.1 334.9L115.3 334.9L115.6 334.9L115.8 335.0L116.0 335.0L116.2 335.0L116.4 335.0L116.7 335.1L116.9 335.1L117.1 335.1L117.3 335.1L117.5 335.2L117.7 335.2L118.0 335.2L118.2 335.2L118.4 335.3L118.6 335.3L118.8 335.3L119.0 335.3L119.3 335.4L119.5 335.4L119.7 335.4L119.9 335.5L120.1 335.5L120.3 335.5L120.6 335.5L120.8 335.6L121.0 335.6L121.2 335.6L121.4 335.6L121.6 335.7L121.9 335.7L122.1 335.7L122.3 335.7L122.5 335.8L122.7 335.8L123.0 335.8L123.2 335.8L123.4 335.9L123.6 335.9L123.8 335.9L124.0 335.9L124.3 336.0L124.5 336.0L124.7 336.0L124.9 336.1L125.1 336.1L125.3 336.1L125.6 336.1L125.8 336.2L126.0 336.2L126.2 336.2L126.4 336.2L126.6 336.3L126.9 336.3L127.1 336.3L127.3 336.3L127.5 336.4L127.7 336.4L128.0 336.4L128.2 336.4L128.4 336.5L128.6 336.5L128.8 336.5L129.0 336.5L129.3 336.6L129.5 336.6L129.7 336.6L129.9 336.7L130.1 336.7L130.3 336.7L130.6 336.7L130.8 336.8L131.0 336.8L131.2 336.8L131.4 336.8L131.6 336.9L131.9 336.9L132.1 336.9L132.3 336.9L132.5 337.0L132.7 337.0L132.9 337.0L133.2 337.0L133.4 337.1L133.6 337.1L133.8 337.1L134.0 337.1L134.3 337.2L134.5 337.2L134.7 337.2L134.9 337.2L135.1 337.3L135.3 337.3L135.6 337.3L135.8 337.4L136.0 337.4L136.2 337.4L136.4 337.4L136.6 337.5L136.9 337.5L137.1 337.5L137.3 337.5L137.5 337.6L137.7 337.6L137.9 337.6L138.2 337.6L138.4 337.7L138.6 337.7L138.8 337.7L139.0 337.7L139.2 337.8L139.5 337.8L139.7 337.8L139.9 337.8L140.1 337.9L140.3 337.9L140.6 337.9L140.8 338.0L141.0 338.0L141.2 338.0L141.4 338.0L141.6 338.1L141.9 338.1L142.1 338.1L142.3 338.1L142.5 338.2L142.7 338.2L142.9 338.2L143.2 338.3L143.4 338.3L143.6 338.3L143.8 338.4L144.0 338.4L144.2 338.4L144.5 338.5L144.7 338.5L144.9 338.6L145.1 338.6L145.3 338.6L145.6 338.7L145.8 338.7L146.0 338.8L146.2 338.8L146.4 338.8L146.6 338.9L146.9 338.9L147.1 338.9L147.3 339.0L147.5 339.0L147.7 339.1L147.9 339.1L148.2 339.1L148.4 339.2L148.6 339.2L148.8 339.3L149.0 339.3L149.2 339.3L149.5 339.4L149.7 339.4L149.9 339.4L150.1 339.5L150.3 339.5L150.5 339.5L150.8 339.5L151.0 339.5L151.2 339.6L151.4 339.6L151.6 339.6L151.9 339.6L152.1 339.6L152.3 339.6L152.5 339.7L152.7 339.7L152.9 339.7L153.2 339.7L153.4 339.7L153.6 339.7L153.8 339.8L154.0 339.8L154.2 339.8L154.5 339.8L154.7 339.8L154.9 339.8L155.1 339.9L155.3 339.9L155.5 339.9L155.8 339.9L156.0 339.9L156.2 339.9L156.4 340.0L156.6 340.0L156.8 340.0L157.1 340.0L157.3 340.0L157.5 340.1L157.7 340.1L157.9 340.1L158.2 340.1L158.4 340.1L158.6 340.1L158.8 340.2L159.0 340.2L159.2 340.2L159.5 340.2L159.7 340.2L159.9 340.2L160.1 340.3L160.3 340.3L160.5 340.3L160.8 340.2L161.0 340.2L161.2 340.2L161.4 340.2L161.6 340.1L161.8 340.1L162.1 340.1L162.3 340.1L162.5 340.1L162.7 340.0L162.9 340.0L163.2 340.0L163.4 340.0L163.6 340.0L163.8 339.9L164.0 339.9L164.2 339.9L164.5 339.9L164.7 339.8L164.9 339.8L165.1 339.8L165.3 339.8L165.5 339.8L165.8 339.7L166.0 339.7L166.2 339.7L166.4 339.7L166.6 339.7L166.8 339.6L167.1 339.6L167.3 339.6L167.5 339.6L167.7 339.5L167.9 339.5L168.1 339.5L168.4 339.5L168.6 339.5L168.8 339.4L169.0 339.4L169.2 339.4L169.5 339.4L169.7 339.4L169.9 339.3L170.1 339.3L170.3 339.3L170.5 339.3L170.8 339.2L171.0 339.2L171.2 339.1L171.4 339.1L171.6 339.0L171.8 338.9L172.1 338.9L172.3 338.8L172.5 338.7L172.7 338.7L172.9 338.6L173.1 338.5L173.4 338.5L173.6 338.4L173.8 338.3L174.0 338.3L174.2 338.2L174.4 338.1L174.7 338.1L174.9 338.0L175.1 338.0L175.3 337.9L175.5 337.8L175.8 337.8L176.0 337.7L176.2 337.6L176.4 337.6L176.6 337.5L176.8 337.4L177.1 337.4L177.3 337.3L177.5 337.2L177.7 337.2L177.9 337.1L178.1 337.1L178.4 337.0L178.6 336.9L178.8 336.9L179.0 336.8L179.2 336.7L179.4 336.7L179.7 336.6L179.9 336.5L180.1 336.5L180.3 336.4L180.5 336.3L180.7 336.3L181.0 336.2L181.2 336.2L181.4 336.0L181.6 335.8L181.8 335.7L182.1 335.5L182.3 335.3L182.5 335.2L182.7 335.0L182.9 334.8L183.1 334.7L183.4 334.5L183.6 334.4L183.8 334.2L184.0 334.0L184.2 333.9L184.4 333.7L184.7 333.5L184.9 333.4L185.1 333.2L185.3 333.0L185.5 332.9L185.7 332.7L186.0 332.6L186.2 332.4L186.4 332.2L186.6 332.1L186.8 331.9L187.1 331.7L187.3 331.6L187.5 331.4L187.7 331.3L187.9 331.1L188.1 330.9L188.4 330.8L188.6 330.6L188.8 330.4L189.0 330.3L189.2 330.1L189.4 329.9L189.7 329.8L189.9 329.6L190.1 329.5L190.3 329.3L190.5 329.1L190.7 329.0L191.0 328.8L191.2 328.6L191.4 328.5L191.6 328.3L191.8 328.0L192.0 327.7L192.3 327.5L192.5 327.2L192.7 326.9L192.9 326.6L193.1 326.3L193.4 326.0L193.6 325.8L193.8 325.5L194.0 325.2L194.2 324.9L194.4 324.6L194.7 324.3L194.9 324.0L195.1 323.8L195.3 323.5L195.5 323.2L195.7 322.9L196.0 322.6L196.2 322.3L196.4 322.1L196.6 321.8L196.8 321.5L197.0 321.2L197.3 320.9L197.5 320.6L197.7 320.4L197.9 320.1L198.1 319.6L198.3 319.2L198.6 318.8L198.8 318.3L199.0 317.9L199.2 317.5L199.4 317.0L199.7 316.6L199.9 316.2L200.1 315.7L200.3 315.3L200.5 314.9L200.7 314.4L201.0 314.0L201.2 313.6L201.4 313.1L201.6 312.7L201.8 312.3L202.0 311.8L202.3 311.3L202.5 310.8L202.7 310.2L202.9 309.7L203.1 309.2L203.3 308.7L203.6 308.1L203.8 307.6L204.0 307.1L204.2 306.5L204.4 306.0L204.7 305.5L204.9 305.0L205.1 304.4L205.3 303.9L205.5 303.4L205.7 302.9L206.0 302.3" stroke="#2ca02c" stroke-dasharray="10.24 2.56 1.60 2.56"/><path d="M62.5 290.7L62.8 290.4L63.0 291.4L63.2 291.4L63.4 292.3L63.6 293.0L63.9 293.4L64.1 294.7L64.3 295.2L64.5 296.5L64.7 296.5L64.9 297.6L65.2 297.6L65.4 298.6L65.6 298.7L65.8 299.2L66.0 300.8L66.2 301.1L66.5 301.8L66.7 301.6L66.9 301.7L67.1 302.8L67.3 304.0L67.5 303.8L67.8 305.9L68.0 305.0L68.2 306.7L68.4 308.4L68.6 306.3L68.9 307.5L69.1 309.4L69.3 309.4L69.5 310.2L69.7 310.7L69.9 312.1L70.2 312.4L70.4 312.4L70.6 313.4L70.8 313.7L71.0 315.1L71.2 314.9L71.5 317.2L71.7 317.5L71.9 319.5L72.1 320.0L72.3 319.5L72.5 321.5L72.8 321.6L73.0 322.7L73.2 324.1L73.4 324.6L73.6 325.5L73.8 326.4L74.1 326.6L74.3 327.6L74.5 329.1L74.7 330.2L74.9 330.5L75.2 331.6L75.4 331.9L75.6 332.0L75.8 333.8L76.0 335.1L76.2 336.1L76.5 337.3L76.7 338.3L76.9 338.7L77.1 338.8L77.3 339.2L77.5 339.0L77.8 340.5L78.0 340.4L78.2 342.9L78.4 338.0L78.6 340.3L78.8 338.6L79.1 340.6L79.3 339.8L79.5 343.2L79.7 341.8L79.9 339.1L80.1 346.3L80.4 342.2L80.6 341.7L80.8 344.3L81.0 343.8L81.2 343.1L81.5 346.8L81.7 345.0L81.9 347.6L82.1 347.4L82.3 347.5L82.5 346.7L82.8 346.3L83.0 346.0L83.2 349.9L83.4 343.7L83.6 345.3L83.8 346.2L84.1 348.4L84.3 348.0L84.5 347.0L84.7 347.5L84.9 351.9L85.1 347.2L85.4 343.9L85.6 352.8L85.8 347.3L86.0 348.6L86.2 349.7L86.5 347.2L86.7 352.2L86.9 349.7L87.1 347.6L87.3 350.7L87.5 351.4L87.8 350.5L88.0 351.8L88.2 348.4L88.4 353.1L88.6 349.9L88.8 354.2L89.1 350.6L89.3 352.2L89.5 358.0L89.7 352.4L89.9 354.7L90.1 353.6L90.4 350.2L90.6 355.4L90.8 355.5L91.0 350.9L91.2 353.5L91.4 351.1L91.7 353.4L91.9 356.0L92.1 354.6L92.3 352.4L92.5 353.1L92.8 355.0L93.0 355.1L93.2 355.6L93.4 356.7L93.6 352.3L93.8 355.7L94.1 358.2L94.3 356.9L94.5 354.7L94.7 355.0L94.9 356.6L95.1 357.7L95.4 356.5L95.6 360.1L95.8 359.4L96.0 355.4L96.2 357.9L96.4 356.4L96.7 355.0L96.9 356.1L97.1 357.3L97.3 353.8L97.5 356.4L97.7 358.4L98.0 356.5L98.2 357.2L98.4 359.7L98.6 358.0L98.8 358.6L99.1 362.6L99.3 358.8L99.5 359.1L99.7 359.5L99.9 362.2L100.1 359.6L100.4 359.1L100.6 358.9L100.8 361.5L101.0 358.2L101.2 361.9L101.4 360.0L101.7 357.3L101.9 361.1L102.1 360.7L102.3 357.9L102.5 360.6L102.7 360.5L103.0 359.5L103.2 358.1L103.4 364.8L103.6 361.7L103.8 362.1L104.1 362.3L104.3 361.9L104.5 361.9L104.7 359.7L104.9 362.1L105.1 360.1L105.4 359.7L105.6 361.9L105.8 360.2L106.0 357.7L106.2 360.0L106.4 361.9L106.7 360.8L106.9 362.5L107.1 360.2L107.3 359.2L107.5 362.5L107.7 361.3L108.0 358.9L108.2 361.9L108.4 360.7L108.6 363.1L108.8 362.7L109.0 362.1L109.3 357.6L109.5 362.0L109.7 362.3L109.9 362.4L110.1 361.7L110.4 360.2L110.6 361.1L110.8 358.0L111.0 361.2L111.2 359.1L111.4 361.1L111.7 360.6L111.9 364.6L112.1 362.0L112.3 361.9L112.5 362.2L112.7 366.3L113.0 360.2L113.2 362.5L113.4 362.6L113.6 362.3L113.8 362.3L114.0 361.1L114.3 364.4L114.5 363.7L114.7 361.4L114.9 361.6L115.1 362.6L115.3 363.0L115.6 363.6L115.8 362.1L116.0 359.9L116.2 364.1L116.4 359.4L116.7 360.5L116.9 362.9L117.1 360.6L117.3 365.0L117.5 365.6L117.7 364.6L118.0 362.9L118.2 362.7L118.4 363.1L118.6 361.9L118.8 366.6L119.0 361.2L119.3 365.0L119.5 363.4L119.7 363.0L119.9 364.5L120.1 365.0L120.3 364.2L120.6 362.3L120.8 361.2L121.0 361.2L121.2 364.2L121.4 363.8L121.6 364.1L121.9 361.5L122.1 366.6L122.3 360.2L122.5 363.2L122.7 363.8L123.0 361.6L123.2 360.4L123.4 361.6L123.6 360.3L123.8 361.9L124.0 360.0L124.3 359.9L124.5 362.3L124.7 359.6L124.9 361.7L125.1 361.8L125.3 363.8L125.6 362.5L125.8 360.5L126.0 364.5L126.2 360.7L126.4 361.2L126.6 361.3L126.9 366.4L127.1 362.0L127.3 360.6L127.5 363.2L127.7 361.5L128.0 366.7L128.2 360.4L128.4 362.9L128.6 360.0L128.8 365.4L129.0 360.3L129.3 362.0L129.5 360.0L129.7 363.3L129.9 362.6L130.1 357.7L130.3 363.0L130.6 362.7L130.8 361.9L131.0 363.3L131.2 359.2L131.4 358.3L131.6 362.6L131.9 364.7L132.1 359.1L132.3 359.2L132.5 359.7L132.7 359.1L132.9 362.8L133.2 361.4L133.4 363.8L133.6 363.9L133.8 359.3L134.0 362.3L134.3 357.2L134.5 360.9L134.7 362.3L134.9 359.6L135.1 357.9L135.3 360.1L135.6 363.4L135.8 360.3L136.0 358.6L136.2 361.9L136.4 362.4L136.6 359.1L136.9 360.7L137.1 363.1L137.3 361.6L137.5 362.4L137.7 360.4L137.9 360.7L138.2 358.9L138.4 359.6L138.6 364.0L138.8 360.1L139.0 359.3L139.2 360.0L139.5 359.0L139.7 361.9L139.9 362.7L140.1 359.2L140.3 362.9L140.6 365.3L140.8 359.0L141.0 362.2L141.2 361.3L141.4 363.6L141.6 363.4L141.9 363.0L142.1 361.4L142.3 360.0L142.5 365.6L142.7 359.4L142.9 363.0L143.2 362.8L143.4 359.4L143.6 360.7L143.8 363.7L144.0 357.4L144.2 362.2L144.5 360.1L144.7 360.1L144.9 358.0L145.1 361.3L145.3 358.6L145.6 361.8L145.8 358.4L146.0 361.8L146.2 361.0L146.4 357.1L146.6 359.7L146.9 360.0L147.1 356.4L147.3 359.5L147.5 361.7L147.7 358.8L147.9 362.4L148.2 358.1L148.4 357.9L148.6 361.1L148.8 361.2L149.0 359.6L149.2 359.9L149.5 361.8L149.7 358.8L149.9 364.1L150.1 360.6L150.3 360.6L150.5 360.3L150.8 359.2L151.0 362.1L151.2 358.6L151.4 360.0L151.6 360.7L151.9 362.1L152.1 361.5L152.3 358.4L152.5 360.7L152.7 358.6L152.9 356.7L153.2 356.5L153.4 355.5L153.6 358.6L153.8 360.0L154.0 355.9L154.2 357.0L154.5 355.4L154.7 357.2L154.9 355.0L155.1 355.4L155.3 355.5L155.5 355.7L155.8 355.7L156.0 355.9L156.2 355.7L156.4 354.2L156.6 356.8L156.8 352.7L157.1 355.7L157.3 353.6L157.5 355.3L157.7 355.5L157.9 351.4L158.2 355.3L158.4 357.1L158.6 355.7L158.8 354.8L159.0 350.4L159.2 353.5L159.5 352.0L159.7 355.5L159.9 352.7L160.1 352.0L160.3 350.0L160.5 354.2L160.8 351.6L161.0 352.0L161.2 354.4L161.4 352.2L161.6 352.5L161.8 356.8L162.1 350.6L162.3 350.5L162.5 352.2L162.7 353.8L162.9 348.4L163.2 350.3L163.4 348.9L163.6 348.0L163.8 351.3L164.0 348.7L164.2 350.4L164.5 349.9L164.7 349.8L164.9 349.5L165.1 347.3L165.3 348.9L165.5 349.2L165.8 349.3L166.0 348.0L166.2 350.2L166.4 349.2L166.6 348.2L166.8 349.0L167.1 348.0L167.3 348.7L167.5 344.0L167.7 344.9L167.9 346.2L168.1 347.0L168.4 343.0L168.6 345.9L168.8 346.5L169.0 345.6L169.2 345.5L169.5 343.4L169.7 345.7L169.9 342.0L170.1 347.0L170.3 343.9L170.5 346.9L170.8 341.7L171.0 345.3L171.2 344.6L171.4 342.7L171.6 342.0L171.8 346.3L172.1 344.6L172.3 346.6L172.5 343.4L172.7 343.7L172.9 344.0L173.1 344.5L173.4 343.8L173.6 344.4L173.8 341.8L174.0 340.0L174.2 346.5L174.4 342.5L174.7 343.0L174.9 341.1L175.1 343.7L175.3 342.0L175.5 343.6L175.8 340.2L176.0 341.1L176.2 341.5L176.4 340.3L176.6 341.3L176.8 343.9L177.1 339.5L177.3 339.9L177.5 340.6L177.7 338.4L177.9 337.9L178.1 342.0L178.4 341.2L178.6 336.9L178.8 337.0L179.0 340.7L179.2 341.5L179.4 340.2L179.7 339.8L179.9 341.9L180.1 338.5L180.3 340.9L180.5 340.6L180.7 336.5L181.0 339.3L181.2 337.9L181.4 336.5L181.6 336.0L181.8 337.8L182.1 336.9L182.3 338.4L182.5 333.6L182.7 335.2L182.9 338.4L183.1 336.0L183.4 334.5L183.6 334.8L183.8 332.3L184.0 332.9L184.2 336.1L184.4 335.0L184.7 337.2L184.9 334.0L185.1 334.0L185.3 329.6L185.5 333.7L185.7 338.0L186.0 334.7L186.2 333.0L186.4 335.6L186.6 334.5L186.8 333.4L187.1 331.8L187.3 332.6L187.5 333.8L187.7 330.5L187.9 332.7L188.1 332.4L188.4 334.0L188.6 332.6L188.8 329.7L189.0 334.0L189.2 330.6L189.4 329.0L189.7 330.8L189.9 329.5L190.1 331.9L190.3 327.2L190.5 327.4L190.7 328.7L191.0 330.4L191.2 329.6L191.4 327.7L191.6 327.0L191.8 327.8L192.0 326.7L192.3 327.9L192.5 327.2L192.7 326.7L192.9 326.0L193.1 327.4L193.4 325.0L193.6 324.4L193.8 326.1L194.0 325.9L194.2 324.2L194.4 324.7L194.7 325.9L194.9 322.9L195.1 323.1L195.3 323.3L195.5 320.9L195.7 322.1L196.0 322.5L196.2 321.5L196.4 322.2L196.6 321.6L196.8 320.3L197.0 320.8L197.3 320.4L197.5 318.3L197.7 318.7L197.9 318.4L198.1 318.1L198.3 317.5L198.6 316.2L198.8 316.8L199.0 314.8L199.2 316.5L199.4 315.4L199.7 315.8L199.9 314.3L200.1 313.1L200.3 311.8L200.5 313.0L200.7 311.8L201.0 311.6L201.2 311.4L201.4 311.2L201.6 309.6L201.8 310.6L202.0 308.4L202.3 307.6L202.5 307.3L202.7 306.7L202.9 306.2L203.1 302.6L203.3 304.4L203.6 301.1L203.8 301.0L204.0 300.9L204.2 300.7L204.4 298.0L204.7 296.5L204.9 297.8L205.1 296.4L205.3 294.6L205.5 294.4L205.7 292.4L206.0 293.7" stroke="#d62728" stroke-dasharray="1.60 2.64"/><path d="M198.3 321.1L198.8 325.5L199.2 330.9L199.7 336.3L200.1 339.5L200.5 341.3L201.0 343.4L201.4 346.3L201.8 348.9L202.3 350.2L202.7 351.2L203.1 352.4L203.6 353.5L204.0 354.6L204.4 356.0L204.9 357.1L205.3 357.9L205.7 358.3L206.2 358.6L206.6 359.2L207.0 359.2L207.5 359.5L207.9 360.4L208.3 361.8L208.8 361.6L209.2 361.0L209.6 361.0L210.1 361.4L210.5 361.9L211.0 362.7L211.4 363.6L211.8 363.9L212.3 362.7L212.7 362.4L213.1 362.5L213.6 361.5L214.0 362.9L214.4 365.4L214.9 365.0L215.3 363.7L215.7 361.2L216.2 360.2L216.6 362.0L217.0 363.1L217.5 362.8L217.9 362.2L218.3 361.3L218.8 361.7L219.2 362.3L219.6 362.1L220.1 362.8L220.5 362.4L220.9 361.2L221.4 361.9L221.8 363.7L222.3 364.2L222.7 363.6L223.1 362.6L223.6 362.5L224.0 363.6L224.4 363.1L224.9 362.2L225.3 362.3L225.7 362.1L226.2 361.7L226.6 362.1L227.0 360.7L227.5 356.9L227.9 354.2L228.3 352.2L228.8 349.1L229.2 347.4L229.6 346.8L230.1 346.4L230.5 345.2L230.9 342.5L231.4 340.6L231.8 340.8L232.2 341.0L232.7 339.8L233.1 340.0L233.5 341.6L234.0 342.6L234.4 343.4L234.9 343.7L235.3 343.8L235.7 344.5L236.2 346.4L236.6 348.7L237.0 349.9L237.5 350.8L237.9 350.7L238.3 350.6L238.8 352.8L239.2 356.5L239.6 359.3L240.1 360.6L240.5 359.9L240.9 358.7L241.4 359.1L241.8 359.9L242.2 360.4L242.7 359.9L243.1 359.8L243.5 361.6L244.0 363.1L244.4 363.0L244.8 362.9L245.3 364.2L245.7 365.6L246.2 366.1L246.6 365.3L247.0 362.5L247.5 361.4L247.9 363.0L248.3 363.3L248.8 363.9L249.2 365.3L249.6 365.3L250.1 365.2L250.5 364.4L250.9 364.1L251.4 365.6L251.8 365.4L252.2 364.9L252.7 365.6L253.1 365.1L253.5 364.5L254.0 364.9L254.4 364.9L254.8 365.9L255.3 366.7L255.7 364.2L256.1 362.4L256.6 363.1L257.0 364.8L257.4 366.5L257.9 366.7L258.3 366.6L258.8 365.9L259.2 365.0L259.6 365.6L260.1 366.7L260.5 367.3L260.9 366.2L261.4 365.4L261.8 366.0L262.2 365.0L262.7 363.9L263.1 365.5L263.5 366.8L264.0 365.2L264.4 362.5L264.8 361.4L265.3 362.9L265.7 364.5L266.1 363.9L266.6 363.0L267.0 362.9L267.4 361.5L267.9 360.9L268.3 361.7L268.7 361.6L269.2 360.7L269.6 360.9L270.1 361.8L270.5 361.5L270.9 362.0L271.4 362.4L271.8 361.3L272.2 361.0L272.7 361.8L273.1 362.0L273.5 359.7L274.0 356.2L274.4 354.7L274.8 354.8L275.3 355.1L275.7 354.4L276.1 352.7L276.6 350.9L277.0 350.2L277.4 348.3L277.9 345.4L278.3 343.7L278.7 340.7L279.2 335.3L279.6 329.9L280.0 324.9L280.5 320.7L280.9 319.9L281.4 318.4L281.8 317.3L282.2 316.5L282.7 314.5L283.1 311.8L283.5 309.7L284.0 310.0L284.4 312.3L284.8 312.8L285.3 312.1L285.7 312.1L286.1 312.8L286.6 312.8L287.0 312.1L287.4 313.0L287.9 313.7L288.3 312.3L288.7 312.5L289.2 313.8L289.6 314.2L290.0 314.5L290.5 314.9L290.9 316.3L291.3 318.2L291.8 319.1L292.2 319.5L292.6 319.6L293.1 319.9L293.5 321.2L294.0 324.4L294.4 327.1L294.8 326.3L295.3 326.0L295.7 325.2L296.1 324.6L296.6 326.1L297.0 328.0L297.4 328.9L297.9 329.9L298.3 331.1L298.7 332.5L299.2 332.6L299.6 332.1L300.0 332.6L300.5 333.7L300.9 334.9L301.3 336.0L301.8 336.4L302.2 336.4L302.6 336.7L303.1 338.2L303.5 340.2L303.9 340.2L304.4 339.5L304.8 340.9L305.3 341.7L305.7 340.8L306.1 341.3L306.6 343.1L307.0 343.7L307.4 343.2L307.9 344.3L308.3 346.2L308.7 348.2L309.2 350.6L309.6 350.9L310.0 349.7L310.5 349.9L310.9 351.7L311.3 354.0L311.8 354.9L312.2 355.1L312.6 355.2L313.1 353.6L313.5 351.8L313.9 351.2L314.4 353.0L314.8 355.7L315.2 358.5L315.7 360.3L316.1 358.3L316.5 355.8L317.0 354.9L317.4 354.8L317.9 355.4L318.3 355.7L318.7 355.3L319.2 355.7L319.6 357.7L320.0 359.1L320.5 358.3L320.9 356.1L321.3 355.5L321.8 357.2L322.2 358.9L322.6 358.9L323.1 358.6L323.5 358.7L323.9 358.4L324.4 358.3L324.8 358.1L325.2 357.6L325.7 357.8L326.1 358.5L326.5 358.7L327.0 358.3L327.4 357.7L327.8 357.8L328.3 358.0L328.7 359.0L329.2 359.2L329.6 358.2L330.0 358.1L330.5 357.4L330.9 357.7L331.3 359.7L331.8 359.8L332.2 359.0L332.6 359.3L333.1 358.7L333.5 357.4L333.9 357.1L334.4 357.3L334.8 357.4L335.2 357.5L335.7 357.8L336.1 357.3L336.5 356.5L337.0 357.0L337.4 358.1L337.8 358.3L338.3 357.2L338.7 356.6L339.1 357.4L339.6 357.5L340.0 355.5L340.4 354.3L340.9 355.7L341.3 356.3L341.8 357.4L342.2 359.1L342.6 358.2L343.1 356.5L343.5 355.6L343.9 356.4L344.4 357.5L344.8 357.0L345.2 356.6L345.7 356.9L346.1 357.4L346.5 357.9L347.0 356.8L347.4 354.6L347.8 353.6L348.3 354.4L348.7 354.9L349.1 354.3L349.6 353.7L350.0 353.5L350.4 354.2L350.9 355.4L351.3 355.6L351.7 355.5L352.2 355.4L352.6 355.9L353.1 357.7L353.5 359.0L353.9 358.8L354.4 358.3L354.8 356.8L355.2 356.6L355.7 357.2L356.1 355.5L356.5 354.5L357.0 354.4L357.4 353.2L357.8 353.7L358.3 355.4L358.7 355.0L359.1 354.5L359.6 354.5L360.0 354.8L360.4 356.1L360.9 357.0L361.3 357.1L361.7 356.6L362.2 356.4L362.6 357.1L363.0 356.3L363.5 354.5L363.9 354.0L364.4 354.8L364.8 356.2L365.2 355.9L365.7 354.6L366.1 354.0L366.5 353.3L367.0 352.4L367.4 352.4L367.8 352.6L368.3 352.1L368.7 351.8L369.1 351.4L369.6 350.3L370.0 349.9L370.4 350.1L370.9 349.7L371.3 348.6L371.7 347.5L372.2 347.2L372.6 347.1L373.0 346.4L373.5 345.2L373.9 343.9L374.3 344.4L374.8 344.3L375.2 341.3L375.6 340.3L376.1 340.4L376.5 338.8L377.0 335.9L377.4 332.6L377.8 332.2L378.3 332.5L378.7 330.3L379.1 327.5L379.6 325.6L380.0 326.5L380.4 327.0L380.9 324.0L381.3 322.0L381.7 322.0L382.2 321.2L382.6 317.5L383.0 315.5L383.5 315.7L383.9 314.0L384.3 311.5L384.8 310.3L385.2 310.7L385.6 311.4L386.1 310.5L386.5 310.8L386.9 311.3L387.4 311.0L387.8 312.0L388.3 311.8L388.7 309.6L389.1 310.1L389.6 311.0L390.0 311.0L390.4 312.4L390.9 312.7L391.3 311.5L391.7 310.7L392.2 309.5L392.6 308.8L393.0 310.5L393.5 311.3L393.9 312.5L394.3 314.6L394.8 315.7L395.2 316.2L395.6 316.2L396.1 316.4L396.5 318.2L396.9 319.5L397.4 319.6L397.8 319.4L398.2 313.9L398.7 309.5L399.1 304.8L399.5 304.7L400.0 305.8L400.4 307.5L400.9 308.3L401.3 310.0L401.7 311.7L402.2 312.6L402.6 313.9L403.0 314.7L403.5 314.1L403.9 313.2L404.3 314.0L404.8 315.6L405.2 316.2L405.6 317.5L406.1 318.4L406.5 318.7L406.9 318.9L407.4 318.9L407.8 321.2L408.2 323.1L408.7 322.8L409.1 323.9L409.5 326.8L410.0 328.1L410.2 324.4L410.5 324.9L410.8 325.1L411.2 324.7L411.5 327.6L411.8 326.6L412.2 329.6L412.5 329.5L412.8 327.9L413.1 329.3L413.5 332.5L413.8 329.9L414.1 330.8L414.4 331.8L414.8 330.0L415.1 331.3L415.4 333.3L415.7 332.6L416.1 328.4L416.4 333.4L416.7 330.7L417.0 330.2L417.4 330.2L417.7 333.1L418.0 331.8L418.3 331.1L418.7 330.3L419.0 332.4L419.3 333.3L419.6 330.2L420.0 330.3L420.3 331.8L420.6 333.7L421.0 332.6L421.3 333.5L421.6 332.9L421.9 336.5L422.3 334.8L422.6 335.7L422.9 337.6L423.2 336.0L423.6 336.7L423.9 337.8L424.2 337.1L424.5 340.3L424.9 338.6L425.2 338.3L425.5 339.0L425.8 338.3L426.2 341.9L426.5 342.5L426.8 339.9L427.1 339.7L427.5 337.6L427.8 339.8L428.1 342.1L428.4 339.7L428.8 342.3L429.1 343.5L429.4 337.8L429.8 340.9L430.1 340.5L430.4 340.6L430.7 338.9L431.1 341.0L431.4 339.6L431.7 342.9L432.0 343.4L432.4 339.2L432.7 339.1L433.0 340.4L433.3 340.8L433.7 340.9L434.0 342.2L434.3 338.9L434.6 340.1L435.0 340.3L435.3 340.5L435.6 339.5L435.9 340.2L436.3 339.9L436.6 342.7L436.9 340.0L437.2 337.7L437.6 341.4L437.9 340.8L438.2 339.2L438.6 339.0L438.9 339.4L439.2 342.8L439.5 339.5L439.9 342.0L440.2 341.3L440.5 339.2L440.8 340.3L441.2 338.6L441.5 335.6L441.8 338.5L442.1 338.5L442.5 340.9L442.8 340.4L443.1 341.0L443.4 340.1L443.8 340.9L444.1 340.1L444.4 339.4L444.7 340.5L445.1 341.2L445.4 341.0L445.7 338.1L446.0 338.6L446.4 337.2L446.7 337.1L447.0 339.0L447.4 337.4L447.7 340.6L448.0 335.1L448.3 336.4L448.7 338.3L449.0 339.7L449.3 337.2L449.6 340.7L450.0 338.7L450.3 336.3L450.6 337.2L450.9 337.9L451.3 335.7L451.6 338.6L451.9 336.4L452.2 337.5L452.6 337.9L452.9 335.8L453.2 337.9L453.5 333.6L453.9 337.0L454.2 333.3L454.5 337.6L454.8 334.8L455.2 337.5L455.5 337.6L455.8 335.1L456.2 334.2L456.5 337.0L456.8 333.2L457.1 336.0L457.5 334.4L457.8 334.0L458.1 333.5L458.4 337.1L458.8 331.9L459.1 333.2L459.4 334.5L459.7 335.3L460.1 336.3L460.4 335.6L460.7 332.5L461.0 333.7L461.4 334.8L461.7 333.7L462.0 330.6L462.3 333.2L462.7 333.4L463.0 330.5L463.3 331.6L463.6 332.1L464.0 332.9L464.3 334.3L464.6 333.6L465.0 332.3L465.3 331.8L465.6 330.8L465.9 330.4L466.3 330.8L466.6 330.6L466.9 332.4L467.2 334.2L467.6 331.4L467.9 331.9L468.2 331.3L468.5 330.6L468.9 332.0L469.2 331.6L469.5 329.9L469.8 329.5L470.2 330.5L470.5 328.7L470.8 329.6L471.1 330.8L471.5 329.1L471.8 326.5L472.1 330.1L472.4 327.3L472.8 327.0L473.1 326.8L473.4 330.1L473.8 326.0L474.1 328.5L474.4 329.0L474.7 328.9L475.1 327.6L475.4 328.3L475.7 328.6L476.0 326.5L476.4 329.3L476.7 329.8L477.0 326.9L477.3 327.0L477.7 326.4L478.0 329.6L478.3 326.3L478.6 327.1L479.0 325.3L479.3 329.6L479.6 327.2L479.9 327.9L480.3 330.0L480.6 328.5L480.9 325.7L481.2 328.0L481.6 328.3L481.9 325.9L482.2 325.6L482.6 325.5L482.9 328.0L483.2 326.7L483.5 325.1L483.9 327.4L484.2 327.4L484.5 324.9L484.8 323.8L485.2 327.7L485.5 330.1L485.8 327.9L486.1 327.1L486.5 325.6L486.8 324.3L487.1 325.3L487.4 326.1L487.8 324.6L488.1 326.2L488.4 324.7L488.7 325.4L489.1 320.7L489.4 323.0L489.7 325.4L490.0 325.5L490.4 324.5L490.7 326.3L491.0 324.7L491.4 324.6L491.7 322.0L492.0 323.8L492.3 324.3L492.7 325.0L493.0 324.6L493.3 322.8L493.6 322.9L494.0 320.7L494.3 323.1L494.6 320.4L494.9 321.4L495.3 321.5L495.6 324.6L495.9 323.2L496.2 319.9L496.6 318.8L496.9 320.2L497.2 319.2L497.5 320.7L497.9 320.5L498.2 320.7L498.5 318.1L498.8 318.8L499.2 319.5L499.5 319.4L499.8 317.9L500.2 318.0L500.5 319.6L500.8 315.7L501.1 317.5L501.5 317.7L501.8 315.4L502.1 315.8L502.4 317.2L502.8 316.1L503.1 318.3L503.4 317.5L503.7 320.0L504.1 314.3L504.4 318.9L504.7 314.7L505.0 316.7L505.4 316.7L505.7 315.1L506.0 314.2L506.3 313.4L506.7 311.5L507.0 313.2L507.3 312.1L507.6 314.0L508.0 311.8L508.3 312.3L508.6 312.9L508.9 312.1L509.3 311.7L509.6 311.1L509.9 310.5L510.3 311.5L510.6 311.6L510.9 309.1L511.2 312.6L511.6 310.5L511.9 307.1L512.2 313.6L512.5 309.8L512.9 307.4L513.2 310.8L513.5 304.4L513.8 311.9L514.2 305.2L514.5 304.8L514.8 305.4L515.1 306.7L515.5 305.6L515.8 307.2L516.1 304.3L516.4 307.0L516.8 305.3L517.1 303.2L517.4 306.0L517.7 304.5L518.1 303.4L518.4 305.4L518.7 301.3L519.1 302.1L519.4 304.7L519.7 302.1L520.0 302.8L520.4 302.3L520.7 300.9L521.0 301.8L521.3 299.0L521.7 301.1L522.0 298.3L522.3 299.5L522.6 297.8L523.0 299.6L523.3 299.2L523.6 299.9L523.9 296.9L524.3 296.1L524.6 294.2L524.9 295.0L525.2 296.1L525.6 296.5L525.9 295.2L526.2 295.4L526.5 292.9L526.9 293.2L527.2 295.5L527.5 294.9L527.9 291.5L528.2 292.6L528.5 293.0L528.8 290.6L529.2 292.4L529.5 291.9L529.8 291.9" stroke="#d62728" stroke-dasharray="1.60 2.64"/></g><path d="M95.14 442.55V446.15M149.46 442.55V446.15M203.78 442.55V446.15M258.10 442.55V446.15M312.42 442.55V446.15M366.74 442.55V446.15M421.06 442.55V446.15M475.38 442.55V446.15M529.70 442.55V446.15M62.55 216.00H58.95M62.55 181.63H58.95M62.55 147.27H58.95M62.55 112.90H58.95M62.55 78.53H58.95M62.55 44.17H58.95M62.55 9.80H58.95M62.55 442.55H58.95M62.55 401.31H58.95M62.55 360.07H58.95M62.55 318.83H58.95M62.55 277.59H58.95M62.55 236.35H58.95" stroke="#000" stroke-width="0.83" fill="none"/><path d="M95.14 216.00V236.35M149.46 216.00V236.35M203.78 216.00V236.35M258.10 216.00V236.35M312.42 216.00V236.35M366.74 216.00V236.35M421.06 216.00V236.35M475.38 216.00V236.35M529.70 216.00V236.35" stroke="#000" stroke-opacity="0.62" stroke-width="0.8" fill="none"/><path d="M62.55 430.14H60.25M62.55 422.87H60.25M62.55 417.72H60.25M62.55 413.72H60.25M62.55 410.46H60.25M62.55 407.70H60.25M62.55 405.31H60.25M62.55 403.20H60.25M62.55 388.90H60.25M62.55 381.63H60.25M62.55 376.48H60.25M62.55 372.48H60.25M62.55 369.22H60.25M62.55 366.46H60.25M62.55 364.07H60.25M62.55 361.96H60.25M62.55 347.66H60.25M62.55 340.39H60.25M62.55 335.24H60.25M62.55 331.24H60.25M62.55 327.98H60.25M62.55 325.22H60.25M62.55 322.83H60.25M62.55 320.72H60.25M62.55 306.42H60.25M62.55 299.15H60.25M62.55 294.00H60.25M62.55 290.00H60.25M62.55 286.74H60.25M62.55 283.98H60.25M62.55 281.59H60.25M62.55 279.48H60.25M62.55 265.18H60.25M62.55 257.91H60.25M62.55 252.76H60.25M62.55 248.76H60.25M62.55 245.50H60.25M62.55 242.74H60.25M62.55 240.35H60.25M62.55 238.24H60.25" stroke="#000" stroke-width="0.62" fill="none"/><rect x="62.55" y="9.80" width="467.15" height="206.20" fill="none" stroke="#000" stroke-width="0.83"/><rect x="62.55" y="236.35" width="467.15" height="206.20" fill="none" stroke="#000" stroke-width="0.83"/><text x="55.55" y="220.30" text-anchor="end">0</text><text x="55.55" y="185.93" text-anchor="end">100</text><text x="55.55" y="151.57" text-anchor="end">200</text><text x="55.55" y="117.20" text-anchor="end">300</text><text x="55.55" y="82.83" text-anchor="end">400</text><text x="55.55" y="48.47" text-anchor="end">500</text><text x="55.55" y="14.10" text-anchor="end">600</text><text x="55.55" y="446.85" text-anchor="end">10<tspan font-size="7.52" dy="-4.1">−6</tspan></text><text x="55.55" y="405.61" text-anchor="end">10<tspan font-size="7.52" dy="-4.1">−5</tspan></text><text x="55.55" y="364.37" text-anchor="end">10<tspan font-size="7.52" dy="-4.1">−4</tspan></text><text x="55.55" y="323.13" text-anchor="end">10<tspan font-size="7.52" dy="-4.1">−3</tspan></text><text x="55.55" y="281.89" text-anchor="end">10<tspan font-size="7.52" dy="-4.1">−2</tspan></text><text x="55.55" y="240.65" text-anchor="end">10<tspan font-size="7.52" dy="-4.1">−1</tspan></text><text x="95.14" y="457.40" text-anchor="middle">500</text><text x="149.46" y="457.40" text-anchor="middle">750</text><text x="203.78" y="457.40" text-anchor="middle">1000</text><text x="258.10" y="457.40" text-anchor="middle">1250</text><text x="312.42" y="457.40" text-anchor="middle">1500</text><text x="366.74" y="457.40" text-anchor="middle">1750</text><text x="421.06" y="457.40" text-anchor="middle">2000</text><text x="475.38" y="457.40" text-anchor="middle">2250</text><text x="529.70" y="457.40" text-anchor="middle">2500</text><text x="296.12" y="472" text-anchor="middle">Wavelength [nm]</text><text transform="translate(15.2 112.90) rotate(-90)" text-anchor="middle">Integrating sphere radiance</text><text transform="translate(28.6 111.90) rotate(-90)" text-anchor="middle">[mW m<tspan font-size="7.52" dy="-3.9" dx="0.3">−2</tspan><tspan dy="3.9" dx="0.4"> nm</tspan><tspan font-size="7.52" dy="-3.9" dx="0.3">−1</tspan><tspan dy="3.9" dx="0.4"> sr</tspan><tspan font-size="7.52" dy="-3.9" dx="0.3">−1</tspan><tspan dy="3.9" dx="0.4">]</tspan></text><text transform="translate(22.9 339.25) rotate(-90)" text-anchor="middle">Relative uncertainty contribution (<tspan font-style="italic">k</tspan><tspan dx="-2.1"> =</tspan><tspan dx="-2.1"> 1)</tspan></text><rect x="432.40" y="15.00" width="92.10" height="50.10" rx="2" ry="2" fill="#fff" fill-opacity="0.8" stroke="#ccc" stroke-opacity="0.8" stroke-width="1.04"/><circle cx="447.3" cy="24.20" r="1.90" fill="#1f77b4"/><text x="516.2" y="28.00" text-anchor="end">18 lamps</text><circle cx="447.3" cy="39.75" r="1.90" fill="#ff7f0e"/><text x="516.2" y="43.55" text-anchor="end">14 lamps</text><circle cx="447.3" cy="55.30" r="1.90" fill="#2ca02c"/><text x="516.2" y="59.10" text-anchor="end">5 lamps</text><rect x="352.50" y="371.20" width="172.00" height="65.80" rx="2" ry="2" fill="#fff" fill-opacity="0.8" stroke="#ccc" stroke-opacity="0.8" stroke-width="1.04"/><path d="M356.7 379.60H377.5" stroke="#1f77b4" stroke-width="1.65"/><text x="386.5" y="383.30">Radiometric responsivity</text><path d="M356.7 395.35H377.5" stroke="#ff7f0e" stroke-width="1.65" stroke-dasharray="5.92 2.56"/><text x="386.5" y="399.05">Non-linearity</text><path d="M356.7 411.10H377.5" stroke="#2ca02c" stroke-width="1.65" stroke-dasharray="10.24 2.56 1.60 2.56"/><text x="386.5" y="414.80">Temperature correction</text><path d="M356.7 426.85H377.5" stroke="#d62728" stroke-width="1.65" stroke-dasharray="1.60 2.64"/><text x="386.5" y="430.55">Measurement noise</text></svg></body></html>
